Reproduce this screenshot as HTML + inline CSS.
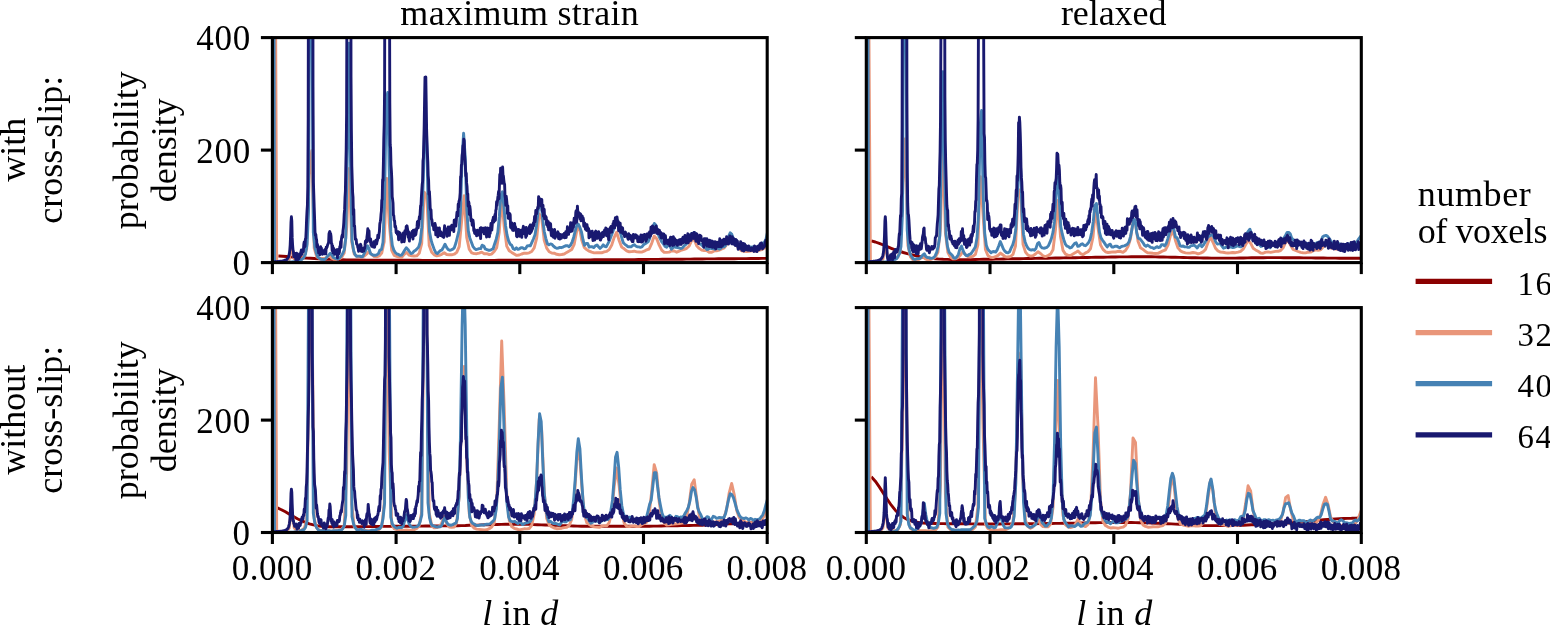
<!DOCTYPE html>
<html lang="en">
<head>
<meta charset="utf-8">
<title>Segment length probability density</title>
<style>
html,body{margin:0;padding:0;background:#fff;}
body{width:1550px;height:626px;overflow:hidden;}
svg{display:block;}
text{font-family:"Liberation Serif", serif;fill:#000;}
.c{fill:none;stroke-width:2.9;stroke-linejoin:round;stroke-linecap:butt;}
.s{fill:none;stroke:#000;stroke-width:3.1;stroke-linejoin:miter;stroke-linecap:square;}
.t{stroke:#000;stroke-width:3.1;stroke-linecap:butt;}
</style>
</head>
<body>
<svg width="1550" height="626" viewBox="0 0 1550 626">
<rect x="0" y="0" width="1550" height="626" fill="#fff"/>
<defs>
<clipPath id="cp00"><rect x="272.4" y="37.6" width="494.8" height="225"/></clipPath>
<clipPath id="cp01"><rect x="866.3" y="37.6" width="495" height="225"/></clipPath>
<clipPath id="cp10"><rect x="272.4" y="307.6" width="494.8" height="224.9"/></clipPath>
<clipPath id="cp11"><rect x="866.3" y="307.6" width="495" height="224.9"/></clipPath>
</defs>
<g clip-path="url(#cp00)">
<path class="c" stroke="#8b0000" d="M278.4 256L282.4 256.2L286.4 256.5L290.4 256.9L294.4 257.2L298.4 257.4L302.4 257.7L306.4 258L310.4 258.2L314.4 258.5L318.4 258.8L322.4 259L326.4 259.2L330.4 259.4L334.4 259.6L338.4 259.7L342.4 259.8L346.4 259.9L350.4 259.9L354.4 260L358.4 260L362.4 260L366.4 260.1L370.4 260.1L374.4 260.2L378.4 260.2L382.4 260.2L386.4 260.3L390.4 260.3L394.4 260.3L398.4 260.3L402.4 260.3L406.4 260.3L410.4 260.3L414.4 260.3L418.4 260.3L422.4 260.4L426.4 260.4L430.4 260.4L434.4 260.4L438.4 260.4L442.4 260.4L446.4 260.4L450.4 260.4L454.4 260.4L458.4 260.4L462.4 260.4L466.4 260.4L470.4 260.4L474.4 260.4L478.4 260.4L482.4 260.4L486.4 260.4L490.4 260.4L494.4 260.4L498.4 260.3L502.4 260.3L506.4 260.3L510.4 260.3L514.4 260.3L518.4 260.3L522.4 260.3L526.4 260.3L530.4 260.3L534.4 260.2L538.4 260.2L542.4 260.2L546.4 260.2L550.4 260.1L554.4 260.1L558.4 260.1L562.4 260.1L566.4 260L570.4 260L574.4 260L578.4 260L582.4 259.9L586.4 259.9L590.4 259.9L594.4 259.8L598.4 259.8L602.4 259.8L606.4 259.8L610.4 259.7L614.4 259.7L618.4 259.7L622.4 259.7L626.4 259.6L630.4 259.6L634.4 259.6L638.4 259.5L642.4 259.5L646.4 259.5L650.4 259.4L654.4 259.4L658.4 259.4L662.4 259.3L666.4 259.3L670.4 259.3L674.4 259.2L678.4 259.2L682.4 259.2L686.4 259.1L690.4 259.1L694.4 259L698.4 259L702.4 259L706.4 258.9L710.4 258.9L714.4 258.9L718.4 258.8L722.4 258.8L726.4 258.8L730.4 258.7L734.4 258.7L738.4 258.6L742.4 258.6L746.4 258.6L750.4 258.5L754.4 258.5L758.4 258.5L762.4 258.4L766.4 258.4L770.4 258.4"/>
<path class="c" stroke="#e9967a" d="M274.2 -299.9L276.7 262.6L279.2 262.1L281.7 262.1L284.2 262L286.7 261.6L289.2 259.7L291.7 246.1L294.2 258.9L296.7 260.7L299.2 260.2L301.7 259.3L304.2 256.3L306.7 248.7L309.2 174.9L311.7 150.8L314.2 248.2L316.7 256.8L319.2 258.2L321.7 258.5L324.2 258.7L326.7 257.6L329.2 255.5L331.7 258.2L334.2 259.4L336.7 259.2L339.2 258.7L341.7 257.2L344.2 252.9L346.7 227.6L349.2 168.5L351.7 241.9L354.2 254L356.7 256.1L359.2 257L361.7 257L364.2 256.1L366.7 253.9L369.2 251.4L371.7 254.6L374.2 256.5L376.7 256.9L379.2 256L381.7 253.1L384.2 241.8L386.7 178.4L389.2 222.8L391.7 250.3L394.2 255.4L396.7 256.3L399.2 257.1L401.7 257.4L404.2 254.4L406.7 252.4L409.2 255.2L411.7 255.9L414.2 256L416.7 255.9L419.2 253.3L421.7 243.7L424.2 192.2L426.7 195.7L429.2 245.6L431.7 252.3L434.2 254.8L436.7 255.8L439.2 255.3L441.7 254.3L444.2 252.7L446.7 254.5L449.2 254.8L451.7 254.8L454.2 254.2L456.7 252.4L459.2 246.6L461.7 220.7L464.2 195.8L466.7 237.4L469.2 249.2L471.7 252.9L474.2 253.6L476.7 253.7L479.2 253.1L481.7 252.1L484.2 253.7L486.7 253.7L489.2 254.5L491.7 254.1L494.2 251.5L496.7 247.6L499.2 232.5L501.7 198.2L504.2 226.5L506.7 246.1L509.2 250.7L511.7 252.4L514.2 253.9L516.7 255.4L519.2 255L521.7 254L524.2 253.2L526.7 253.3L529.2 252.8L531.7 251.5L534.2 247.9L536.7 238.1L539.2 214L541.7 218.4L544.2 240.4L546.7 248.1L549.2 251.8L551.7 253L554.2 253.2L556.7 254.3L559.2 254.7L561.7 254.5L564.2 254L566.7 252.4L569.2 251L571.7 249.5L574.2 244.3L576.7 231L579.2 226.3L581.7 240.1L584.2 247.4L586.7 249.6L589.2 251.2L591.7 252.2L594.2 252.9L596.7 252.8L599.2 252.8L601.7 252.8L604.2 251.9L606.7 251.4L609.2 249.6L611.7 245.1L614.2 237.4L616.7 232.2L619.2 240.8L621.7 247.1L624.2 248.8L626.7 250.8L629.2 251.8L631.7 251.6L634.2 251.2L636.7 251.9L639.2 252L641.7 252.1L644.2 251.2L646.7 249.8L649.2 249L651.7 243.3L654.2 236.1L656.7 238.7L659.2 245.2L661.7 250.1L664.2 252.4L666.7 252.4L669.2 252.1L671.7 250.8L674.2 251L676.7 252.2L679.2 251.1L681.7 250L684.2 249.4L686.7 248.3L689.2 246L691.7 240.3L694.2 239.5L696.7 245.7L699.2 248.4L701.7 250.1L704.2 250.6L706.7 250.5L709.2 252.3L711.7 252.3L714.2 250.9L716.7 250.8L719.2 250.2L721.7 248.9L724.2 247.8L726.7 244.6L729.2 239.1L731.7 236.4L734.2 240.9L736.7 245.6L739.2 248.9L741.7 250.8L744.2 251.2L746.7 251.6L749.2 251.4L751.7 250.9L754.2 250.8L756.7 251L759.2 250.4L761.7 249.7L764.2 248.3L766.7 245.9L769.2 243.2"/>
<path class="c" stroke="#4682b4" d="M273 -513.7L274.5 262.6L276.1 262.2L277.6 262.3L279.2 262.3L280.8 262.3L282.3 262.3L283.8 262.2L285.4 262.2L286.9 262.1L288.5 262L290 262L291.6 262L293.1 261.7L294.7 261.6L296.2 261.1L297.8 260.6L299.3 260.7L300.9 260.2L302.4 258.9L304 257.2L305.5 254.1L307.1 244.1L308.6 209.5L310.2 -187.2L311.8 -13.2L313.3 232.4L314.8 247.1L316.4 253.5L317.9 257.1L319.5 258.4L321 259.2L322.6 259.4L324.1 259.6L325.7 258.8L327.2 256.6L328.8 254.9L330.3 253.3L331.9 254.9L333.4 257.4L335 258.3L336.5 258.7L338.1 259L339.6 257.9L341.2 256L342.7 253.6L344.3 249.8L345.8 238L347.4 148.1L348.9 43.1L350.5 162.4L352 240.2L353.6 250.4L355.1 254.7L356.7 256.4L358.2 256.1L359.8 256.1L361.3 256.9L362.9 256.3L364.4 253.2L366 249.8L367.5 245.8L369.1 248.8L370.6 253.8L372.2 254.6L373.8 255.3L375.3 255.3L376.8 254.9L378.4 253.7L379.9 250.1L381.5 249.5L383 242.3L384.6 197.6L386.1 102.6L387.7 92.4L389.2 169.4L390.8 231.9L392.3 245.4L393.9 250.2L395.4 252.6L397 254L398.5 254.4L400.1 255.4L401.6 255.1L403.2 252.8L404.8 250.1L406.3 247.7L407.9 249.4L409.4 251.5L410.9 253.5L412.5 253.1L414 251.3L415.6 250.3L417.1 248.7L418.7 246.9L420.2 241.8L421.8 227.4L423.4 174.2L424.9 116.6L426.4 127.5L428 199.5L429.5 231.6L431.1 240.2L432.6 245.1L434.2 249.3L435.7 252.5L437.3 253.6L438.9 252L440.4 250.6L441.9 250L443.5 247.1L445 244.2L446.6 247.4L448.1 249.5L449.7 250.3L451.2 249.8L452.8 249.1L454.3 247.8L455.9 243L457.4 237L459 230.5L460.5 210.1L462.1 157.7L463.6 133.3L465.2 156.4L466.8 209.8L468.3 230.9L469.8 237.9L471.4 242.3L472.9 246.3L474.5 248.5L476 249.5L477.6 249.1L479.1 248.6L480.7 248.6L482.2 245.2L483.8 246L485.3 249L486.9 249.6L488.4 250.2L490 250.3L491.5 249.6L493.1 248.7L494.6 244L496.2 239.2L497.8 232.3L499.3 216.7L500.8 195.7L502.4 191.8L503.9 206.7L505.5 225.2L507 234.9L508.6 240.9L510.1 244.2L511.7 245.3L513.2 248.7L514.8 249.5L516.3 247.9L517.9 249.4L519.4 248.8L521 247.7L522.5 247.7L524.1 248.7L525.6 248.6L527.2 246L528.8 245.6L530.3 245.9L531.8 242.6L533.4 239L535 234.8L536.5 225.7L538 212.1L539.6 200.1L541.2 203.4L542.7 219.4L544.2 231.3L545.8 238.3L547.3 243.5L548.9 244.8L550.5 243.9L552 244.4L553.5 246.2L555.1 247.5L556.7 248.3L558.2 248.1L559.8 247.4L561.3 247.7L562.8 247.2L564.4 246.3L566 245.6L567.5 245.7L569 246.8L570.6 245L572.2 241.8L573.7 237.2L575.2 231.2L576.8 225.2L578.3 224.1L579.9 227.4L581.5 231.9L583 239.7L584.5 245.3L586.1 243.4L587.7 243.5L589.2 247.1L590.8 246.7L592.3 246.8L593.8 247.6L595.4 245.8L597 244.9L598.5 246.7L600 248.4L601.6 247L603.2 244.8L604.7 246.4L606.2 246.8L607.8 243.9L609.4 240.8L610.9 236.8L612.5 232.5L614 228.6L615.5 222.1L617.1 219.7L618.7 225L620.2 231.9L621.8 238L623.3 242.8L624.9 244.3L626.4 245.4L627.9 246.8L629.5 246.8L631 246.9L632.6 245.6L634.2 244.7L635.7 246L637.2 246.8L638.8 246.9L640.4 247.3L641.9 246.9L643.5 244.8L645 243.8L646.5 242.9L648.1 241.8L649.7 238.3L651.2 232.9L652.8 227.7L654.3 223.4L655.9 225.2L657.4 231.7L659 236.4L660.5 239.4L662 242.2L663.6 244.2L665.1 246.4L666.7 247.2L668.2 245L669.8 245.7L671.4 249.2L672.9 247.7L674.5 246.5L676 247.4L677.5 247.5L679.1 247.9L680.6 248.5L682.2 248.1L683.8 246.3L685.3 244.8L686.9 243.4L688.4 239.6L690 235.7L691.5 233.6L693 233L694.6 232.4L696.2 234.1L697.7 239.9L699.2 243.8L700.8 244.1L702.4 245.7L703.9 247L705.5 247.7L707 249.5L708.5 249L710.1 248.1L711.7 248.5L713.2 248.3L714.8 249.2L716.3 248.6L717.9 247.8L719.4 249L721 248.2L722.5 246.2L724 246.9L725.6 245.4L727.1 240.2L728.7 236.2L730.2 232.8L731.8 234.4L733.4 238.8L734.9 242.1L736.5 244.8L738 246.4L739.5 247.6L741.1 248.5L742.6 249.4L744.2 250.4L745.8 248.8L747.3 247.7L748.9 247.3L750.4 247L752 247.2L753.5 246.5L755 247.2L756.6 248.3L758.1 248.3L759.7 244.9L761.2 243.1L762.8 243.4L764.4 242.2L765.9 239.5L767.5 232.3"/>
<path class="c" stroke="#191970" d="M272.6 262L273 262.2L273.4 262.2L273.8 262L274.2 261.8L274.6 261.7L275 261.7L275.4 261.5L275.8 261.8L276.2 261.8L276.6 261.8L277 261.9L277.4 261.5L277.8 261.5L278.2 261.7L278.6 261.6L279 261.3L279.4 261.4L279.8 261.3L280.2 261.2L280.6 261.4L281 261.1L281.4 261.2L281.8 261.1L282.2 261.1L282.6 261L283 260.9L283.4 260.7L283.8 260.7L284.2 260.5L284.6 260.3L285 260.1L285.4 260.2L285.8 259.8L286.2 259.7L286.6 259.6L287 259.2L287.4 258.6L287.8 258.2L288.2 257.6L288.6 256.9L289 255.2L289.4 253.4L289.8 250.1L290.2 244.8L290.6 235.2L291 222.3L291.4 216.8L291.8 220.9L292.2 237.9L292.6 245.1L293 249.8L293.4 251.5L293.8 256.8L294.2 254.6L294.6 255.3L295 255.1L295.4 253.5L295.8 259.9L296.2 258.1L296.6 253.2L297 257.1L297.4 254.6L297.8 259.8L298.2 257.6L298.6 258.9L299 258.5L299.4 254L299.8 256.5L300.2 254.1L300.6 254L301 251.5L301.4 249.9L301.8 254.5L302.2 252.7L302.6 252L303 251.9L303.4 251.1L303.8 244.5L304.2 241.9L304.6 246.8L305 246.3L305.4 238.9L305.8 238.4L306.2 230L306.6 219.2L307 211.3L307.4 205.6L307.8 186.5L308.2 117.5L308.6 -131L309 -676.1L309.4 -1230.1L309.8 -1561L310.2 -1666.8L310.6 -1678L311 -1662.1L311.4 -1602.7L311.8 -1342.8L312.2 -824.9L312.6 -251.6L313 86.7L313.4 182.2L313.8 194.6L314.2 207.4L314.6 218.8L315 231.6L315.4 235.3L315.8 234.3L316.2 238.5L316.6 239.7L317 246.9L317.4 244.1L317.8 248.7L318.2 247.5L318.6 252.9L319 250.1L319.4 252.7L319.8 254.8L320.2 251.6L320.6 246.7L321 249.1L321.4 248.1L321.8 253.7L322.2 254.3L322.6 252L323 251.7L323.4 251.1L323.8 250.6L324.2 253.9L324.6 253.7L325 249.5L325.4 251.7L325.8 253.9L326.2 247.3L326.6 248L327 247.1L327.4 245.6L327.8 244.5L328.2 243.5L328.6 242.7L329 233.8L329.4 232.3L329.8 231.5L330.2 235.2L330.6 233.4L331 236.2L331.4 243.4L331.8 243.6L332.2 250.7L332.6 245.7L333 252.9L333.4 248L333.8 249.4L334.2 252.2L334.6 254.4L335 253.6L335.4 252.1L335.8 251.5L336.2 252.3L336.6 249.6L337 249.9L337.4 257.8L337.8 251.9L338.2 249.5L338.6 254L339 253.7L339.4 252.2L339.8 246.7L340.2 247.7L340.6 241.8L341 247.4L341.4 239.4L341.8 236.7L342.2 235.1L342.6 237.2L343 230.6L343.4 227.8L343.8 222.6L344.2 214.3L344.6 209.9L345 197.7L345.4 191.2L345.8 167.8L346.2 149.4L346.6 113.3L347 -24L347.4 -543L347.8 -1201.8L348.2 -1579.1L348.6 -1664L349 -1671.4L349.4 -1640.5L349.8 -1437.5L350.2 -885.5L350.6 -241.2L351 76.7L351.4 131.2L351.8 166.1L352.2 178.8L352.6 192.3L353 197.2L353.4 214.7L353.8 209.5L354.2 226.4L354.6 225.7L355 233.8L355.4 239.4L355.8 239.1L356.2 239.5L356.6 244.1L357 244.1L357.4 244.6L357.8 247.3L358.2 248.2L358.6 251.3L359 248.2L359.4 246.6L359.8 246.2L360.2 245.6L360.6 244.3L361 245.7L361.4 251.3L361.8 248.7L362.2 251.6L362.6 250.7L363 248.3L363.4 248.2L363.8 251.1L364.2 248.7L364.6 248.6L365 245.9L365.4 241.3L365.8 242.6L366.2 240.3L366.6 242.1L367 236.7L367.4 233.6L367.8 228.8L368.2 232.4L368.6 230.3L369 230.8L369.4 240.3L369.8 241.5L370.2 240.4L370.6 238.8L371 245.1L371.4 244.2L371.8 246.4L372.2 243.7L372.6 244.7L373 245L373.4 247L373.8 241.7L374.2 243.2L374.6 247.2L375 244.4L375.4 242.2L375.8 240.5L376.2 240L376.6 244L377 241.5L377.4 240.6L377.8 235.3L378.2 238.3L378.6 237.9L379 234.1L379.4 231.6L379.8 224.1L380.2 222.1L380.6 219.8L381 214.5L381.4 211.2L381.8 200L382.2 199.6L382.6 179.8L383 180.6L383.4 163.1L383.8 138.4L384.2 124L384.6 89.7L385 -119.2L385.4 -602.6L385.8 -1170.2L386.2 -1535.2L386.6 -1664.4L387 -1667.9L387.4 -1682.1L387.8 -1641.4L388.2 -1463.9L388.6 -1033.1L389 -463.3L389.4 -45.4L389.8 102.6L390.2 145L390.6 148.2L391 165L391.4 170.9L391.8 178.9L392.2 196.8L392.6 199.3L393 202.9L393.4 215.1L393.8 215.8L394.2 220.5L394.6 220.7L395 227L395.4 225.9L395.8 227.7L396.2 232.7L396.6 232.5L397 231.6L397.4 234.2L397.8 234.8L398.2 231.7L398.6 239.8L399 232.9L399.4 232.6L399.8 232.9L400.2 233.3L400.6 236.3L401 234.9L401.4 237.5L401.8 242.1L402.2 239.4L402.6 235.3L403 239.4L403.4 232.9L403.8 233.5L404.2 241.7L404.6 237.8L405 230.6L405.4 232.9L405.8 234.2L406.2 226.5L406.6 227.2L407 225.8L407.4 228.2L407.8 231L408.2 237.2L408.6 231.6L409 238.7L409.4 241.1L409.8 234.2L410.2 236L410.6 234L411 236.7L411.4 233.5L411.8 232.1L412.2 231.3L412.6 234.7L413 239L413.4 230.1L413.8 235.3L414.2 235.5L414.6 231.6L415 235.4L415.4 229.6L415.8 234.6L416.2 231.7L416.6 230L417 226.9L417.4 221.9L417.8 221.3L418.2 227.7L418.6 224.8L419 220.1L419.4 216.6L419.8 218.9L420.2 212.1L420.6 205.6L421 205.5L421.4 196.7L421.8 190.7L422.2 184.4L422.6 181.5L423 160.9L423.4 157.7L423.8 142.5L424.2 125.2L424.6 99.7L425 77.2L425.4 81.7L425.8 76.9L426.2 101.2L426.6 129.1L427 142.7L427.4 153.5L427.8 161.9L428.2 175.5L428.6 180.2L429 194.3L429.4 191.4L429.8 198.4L430.2 208.1L430.6 210L431 209.9L431.4 219.1L431.8 219.3L432.2 222.5L432.6 225.5L433 225.7L433.4 225.1L433.8 229.7L434.2 229.3L434.6 225.3L435 223.5L435.4 225L435.8 234.9L436.2 229.9L436.6 230.2L437 228.3L437.4 228.1L437.8 236.9L438.2 231.8L438.6 234.2L439 229.6L439.4 228L439.8 235.2L440.2 233.9L440.6 235.6L441 232L441.4 234.9L441.8 233L442.2 235L442.6 236.7L443 236.3L443.4 236.2L443.8 237.4L444.2 230.4L444.6 225.8L445 231L445.4 228.5L445.8 232L446.2 230.6L446.6 229.3L447 236.2L447.4 233.4L447.8 230.7L448.2 226.9L448.6 234L449 230.2L449.4 235.4L449.8 228.6L450.2 230L450.6 226.4L451 230.1L451.4 227.7L451.8 225.3L452.2 226.3L452.6 226.7L453 227.2L453.4 229.1L453.8 231.5L454.2 220.3L454.6 223.9L455 220.8L455.4 219.7L455.8 226L456.2 222L456.6 216.5L457 212.2L457.4 212.5L457.8 215.9L458.2 204.1L458.6 207.1L459 201.4L459.4 200.4L459.8 197.6L460.2 192.5L460.6 176.6L461 177L461.4 165L461.8 164.7L462.2 155.1L462.6 152.1L463 145.7L463.4 150.2L463.8 139.2L464.2 140.7L464.6 155.7L465 160.2L465.4 166.6L465.8 176L466.2 173.1L466.6 182.9L467 186.1L467.4 194.3L467.8 193.8L468.2 206.2L468.6 201.7L469 203.2L469.4 214.5L469.8 206.3L470.2 209.1L470.6 214.9L471 221L471.4 221L471.8 219.4L472.2 225.2L472.6 222.3L473 220.2L473.4 223.4L473.8 230.7L474.2 229L474.6 233.2L475 231.1L475.4 233.8L475.8 233.7L476.2 230.8L476.6 235.8L477 232.7L477.4 230.2L477.8 233.1L478.2 232.4L478.6 235.1L479 233.5L479.4 233.8L479.8 231.2L480.2 228.2L480.6 238.6L481 227.7L481.4 232.1L481.8 231.7L482.2 228.4L482.6 231.3L483 228.2L483.4 228.1L483.8 229L484.2 233.8L484.6 232.6L485 231.8L485.4 227.8L485.8 233.3L486.2 233.7L486.6 237L487 233.9L487.4 228L487.8 232.1L488.2 229.8L488.6 229.4L489 231.1L489.4 236.8L489.8 228.3L490.2 233.4L490.6 227.9L491 223.4L491.4 229.3L491.8 230L492.2 225.7L492.6 220.1L493 219.6L493.4 217.2L493.8 222.1L494.2 216.7L494.6 220.8L495 214.5L495.4 220.2L495.8 210.3L496.2 209.3L496.6 201.8L497 205.4L497.4 202L497.8 197.6L498.2 195.2L498.6 191.5L499 198.8L499.4 186.1L499.8 174.5L500.2 183.6L500.6 168.3L501 173.1L501.4 175.8L501.8 176.4L502.2 183.2L502.6 167L503 175.2L503.4 175.9L503.8 180.1L504.2 183.3L504.6 184.3L505 195.7L505.4 198.4L505.8 205.3L506.2 196.2L506.6 199.4L507 203.8L507.4 213.6L507.8 205.8L508.2 218.3L508.6 213.2L509 218.5L509.4 218.4L509.8 213.6L510.2 215L510.6 227.5L511 222.6L511.4 228.2L511.8 222.9L512.2 226.4L512.6 230.2L513 228.2L513.4 228.8L513.8 230.4L514.2 225.5L514.6 223.4L515 230.1L515.4 226.6L515.8 229.3L516.2 228.7L516.6 236.1L517 236.7L517.4 231.2L517.8 232L518.2 234.8L518.6 229.4L519 230L519.4 236.2L519.8 231.4L520.2 231L520.6 231.3L521 230.2L521.4 230.6L521.8 237.3L522.2 230.3L522.6 231.2L523 228.4L523.4 226.3L523.8 230.3L524.2 230.2L524.6 233.9L525 229.1L525.4 233.7L525.8 237.4L526.2 227.4L526.6 235.8L527 233.3L527.4 232.8L527.8 231.6L528.2 228.6L528.6 232.9L529 230.2L529.4 226.5L529.8 233.6L530.2 225L530.6 232.4L531 232.3L531.4 225.3L531.8 230.7L532.2 225.2L532.6 228.7L533 225.3L533.4 222.9L533.8 225.5L534.2 221.5L534.6 216.4L535 221.8L535.4 218.9L535.8 210.4L536.2 211.5L536.6 213.9L537 209.9L537.4 209.3L537.8 207.1L538.2 208.2L538.6 196.7L539 200L539.4 200.9L539.8 204.8L540.2 199L540.6 203.4L541 205.7L541.4 205.5L541.8 199.5L542.2 210.4L542.6 211.7L543 205.1L543.4 216.1L543.8 216.3L544.2 209.3L544.6 218.9L545 215.7L545.4 216L545.8 219.4L546.2 217.1L546.6 224.7L547 220.1L547.4 224.7L547.8 226.6L548.2 221.4L548.6 229.9L549 225.8L549.4 222.9L549.8 224.5L550.2 227.5L550.6 223.8L551 231.5L551.4 235.6L551.8 229.3L552.2 235.1L552.6 236.4L553 230.3L553.4 237.2L553.8 234.6L554.2 234.9L554.6 229.5L555 238.2L555.4 234.6L555.8 235.5L556.2 236.5L556.6 235.9L557 234.1L557.4 233.1L557.8 231.8L558.2 233.3L558.6 238.6L559 233.8L559.4 234.9L559.8 239.1L560.2 234.4L560.6 237L561 238L561.4 238.2L561.8 237.4L562.2 234.6L562.6 236.6L563 236L563.4 236.9L563.8 237.3L564.2 233.5L564.6 237.8L565 233.4L565.4 234.4L565.8 231.7L566.2 237.5L566.6 232L567 235L567.4 226.7L567.8 228.5L568.2 231.8L568.6 234.4L569 230.6L569.4 228.5L569.8 227.9L570.2 231.6L570.6 222.7L571 227.3L571.4 231.3L571.8 226.8L572.2 230.9L572.6 227.7L573 222.6L573.4 227.4L573.8 222.7L574.2 218.1L574.6 222.4L575 223.3L575.4 220.3L575.8 212.4L576.2 210.7L576.6 222.3L577 218.7L577.4 206.2L577.8 212.3L578.2 211.5L578.6 213.2L579 216.3L579.4 213.1L579.8 215.2L580.2 219L580.6 214L581 220.8L581.4 219.3L581.8 218.7L582.2 216L582.6 219.2L583 217.6L583.4 219.4L583.8 226.2L584.2 225.3L584.6 222.9L585 223.7L585.4 229.2L585.8 226.9L586.2 229.1L586.6 230.4L587 224.6L587.4 229.1L587.8 227.3L588.2 229.2L588.6 228.6L589 237.9L589.4 230.8L589.8 233L590.2 236.7L590.6 233.1L591 232.9L591.4 234.9L591.8 232.1L592.2 231.2L592.6 236.6L593 240.5L593.4 233.3L593.8 237.7L594.2 238.1L594.6 240.1L595 239.1L595.4 231.7L595.8 231.1L596.2 238.3L596.6 235.8L597 237.9L597.4 238.3L597.8 237.5L598.2 233.4L598.6 231.7L599 232.8L599.4 237.9L599.8 233.5L600.2 240L600.6 240L601 237.5L601.4 238.2L601.8 236.2L602.2 233.2L602.6 232.3L603 232.5L603.4 236.5L603.8 232.6L604.2 232.1L604.6 229.9L605 234.4L605.4 231.2L605.8 227.9L606.2 232.2L606.6 235.9L607 233.4L607.4 229.3L607.8 232.1L608.2 231.6L608.6 239.8L609 234L609.4 233.3L609.8 231.7L610.2 227.7L610.6 228.1L611 226.6L611.4 227.6L611.8 232.1L612.2 227.9L612.6 227.9L613 223.7L613.4 226.6L613.8 221.2L614.2 223.4L614.6 227.8L615 220.6L615.4 217.7L615.8 225.5L616.2 223.5L616.6 220.1L617 216.9L617.4 220.9L617.8 222.6L618.2 221.4L618.6 230.7L619 223.2L619.4 227.8L619.8 223.1L620.2 223.2L620.6 232.3L621 227.7L621.4 227L621.8 229.1L622.2 229.4L622.6 228L623 233.6L623.4 233L623.8 234.5L624.2 233.4L624.6 236.5L625 233L625.4 232L625.8 234.5L626.2 234.5L626.6 236.3L627 236L627.4 235L627.8 238.3L628.2 239.3L628.6 233.6L629 238L629.4 236.9L629.8 235.8L630.2 237.3L630.6 235.3L631 239.3L631.4 236.6L631.8 240.5L632.2 241.6L632.6 239.8L633 241.6L633.4 234.4L633.8 234.7L634.2 238.3L634.6 235.7L635 237.6L635.4 235.9L635.8 234.8L636.2 237.9L636.6 236.5L637 238.6L637.4 236L637.8 241.6L638.2 241.7L638.6 239.4L639 240.8L639.4 241.6L639.8 238.7L640.2 236.8L640.6 241.7L641 234.9L641.4 241.7L641.8 242L642.2 235.8L642.6 241.7L643 237.9L643.4 235L643.8 235.5L644.2 236.8L644.6 234.4L645 236.9L645.4 237.3L645.8 241.2L646.2 239.1L646.6 239.6L647 233.9L647.4 234.4L647.8 236.1L648.2 234.1L648.6 235.5L649 232.6L649.4 237.3L649.8 231.6L650.2 234.8L650.6 235.6L651 227.1L651.4 233.9L651.8 227.4L652.2 229.4L652.6 226L653 230.4L653.4 231.3L653.8 232.6L654.2 231.2L654.6 228.7L655 227.9L655.4 227.1L655.8 226.8L656.2 226L656.6 233.2L657 230.9L657.4 228.8L657.8 233.6L658.2 230.5L658.6 232L659 233.6L659.4 230.2L659.8 234.4L660.2 232L660.6 232.5L661 237.7L661.4 237.7L661.8 236L662.2 238L662.6 233.8L663 237.6L663.4 237.8L663.8 233.9L664.2 239.7L664.6 243.9L665 242.6L665.4 235.6L665.8 240.2L666.2 241L666.6 242.5L667 240.7L667.4 243.7L667.8 240.4L668.2 240.1L668.6 240.6L669 240.1L669.4 243L669.8 245.5L670.2 238.8L670.6 237.2L671 238.1L671.4 243.1L671.8 240.7L672.2 237.4L672.6 245.5L673 240.7L673.4 236.7L673.8 245.1L674.2 239.4L674.6 238.6L675 243L675.4 240.3L675.8 240L676.2 240.3L676.6 244.5L677 242.8L677.4 245.4L677.8 243.9L678.2 240.4L678.6 243.7L679 241L679.4 239.7L679.8 244.3L680.2 240.9L680.6 244.1L681 244.4L681.4 239.3L681.8 243.5L682.2 241L682.6 238.3L683 237.2L683.4 242.7L683.8 239.7L684.2 242L684.6 239.9L685 235.4L685.4 238.2L685.8 238.9L686.2 242.9L686.6 238.5L687 240.7L687.4 238.7L687.8 233.8L688.2 242.7L688.6 240.3L689 241.3L689.4 240.9L689.8 235L690.2 240.5L690.6 235.2L691 240.4L691.4 234.9L691.8 233.5L692.2 235.7L692.6 234.7L693 236.8L693.4 238.4L693.8 236.5L694.2 232.4L694.6 234.8L695 236.6L695.4 235.1L695.8 241L696.2 241.3L696.6 233.8L697 234.4L697.4 240.5L697.8 236.4L698.2 238.2L698.6 243.6L699 237.9L699.4 238.7L699.8 235.3L700.2 239.6L700.6 236.3L701 236.1L701.4 240.5L701.8 239.6L702.2 240.3L702.6 240.7L703 243.1L703.4 242.7L703.8 247.2L704.2 238.8L704.6 245.3L705 244.6L705.4 238.7L705.8 242.3L706.2 244.9L706.6 245.1L707 238.8L707.4 246.4L707.8 243.1L708.2 245.6L708.6 240.9L709 245.6L709.4 246.6L709.8 240.3L710.2 246.5L710.6 242.3L711 242.5L711.4 242.8L711.8 241L712.2 247.2L712.6 244.4L713 244.5L713.4 241.8L713.8 241.9L714.2 246.2L714.6 247.6L715 241.7L715.4 245.2L715.8 248.9L716.2 245.7L716.6 247L717 242.3L717.4 245.7L717.8 245.7L718.2 246.4L718.6 243.7L719 246.5L719.4 242.5L719.8 238.7L720.2 246.5L720.6 245.8L721 241.3L721.4 246.8L721.8 244.3L722.2 240.4L722.6 244.8L723 245.2L723.4 240.6L723.8 239.2L724.2 241.3L724.6 241.7L725 243.1L725.4 243.9L725.8 239L726.2 243.4L726.6 236.6L727 243.6L727.4 241L727.8 241.5L728.2 242.8L728.6 244L729 237.9L729.4 242.3L729.8 236L730.2 239.6L730.6 240.2L731 239.6L731.4 237.1L731.8 243.9L732.2 236.7L732.6 237.7L733 238.7L733.4 244.1L733.8 238.6L734.2 242.2L734.6 244.5L735 241.1L735.4 245.5L735.8 239.4L736.2 240.4L736.6 240.2L737 241.6L737.4 241.1L737.8 246.2L738.2 249.2L738.6 245.6L739 248.1L739.4 245.4L739.8 247.5L740.2 248.3L740.6 241.6L741 247.5L741.4 242.6L741.8 250.2L742.2 247.7L742.6 244.5L743 250.6L743.4 243.5L743.8 251L744.2 244.6L744.6 244L745 248.6L745.4 244.9L745.8 248.4L746.2 249.8L746.6 249.7L747 249.7L747.4 246.4L747.8 247.1L748.2 250.2L748.6 245.9L749 248.6L749.4 248.4L749.8 248.8L750.2 250.5L750.6 248.2L751 250.6L751.4 247.9L751.8 249.8L752.2 249.7L752.6 248.1L753 248.1L753.4 250.7L753.8 251.4L754.2 249.5L754.6 245.9L755 250.3L755.4 249.6L755.8 251.1L756.2 246.9L756.6 246.8L757 251.6L757.4 248.9L757.8 246.1L758.2 249.3L758.6 246.9L759 245.8L759.4 249.5L759.8 247.5L760.2 243.6L760.6 247.9L761 247.6L761.4 243L761.8 244.2L762.2 246.7L762.6 248.9L763 246.1L763.4 247.6L763.8 247.2L764.2 247L764.6 246.1L765 243.1L765.4 242.1L765.8 240.3L766.2 242.2L766.6 241.8L767 244.4L767.4 237.6"/>
</g>
<line class="t" x1="272.4" y1="262.6" x2="272.4" y2="274.1"/>
<line class="t" x1="396.1" y1="262.6" x2="396.1" y2="274.1"/>
<line class="t" x1="519.8" y1="262.6" x2="519.8" y2="274.1"/>
<line class="t" x1="643.5" y1="262.6" x2="643.5" y2="274.1"/>
<line class="t" x1="767.2" y1="262.6" x2="767.2" y2="274.1"/>
<line class="t" x1="260.9" y1="262.6" x2="272.4" y2="262.6"/>
<line class="t" x1="260.9" y1="150.1" x2="272.4" y2="150.1"/>
<line class="t" x1="260.9" y1="37.6" x2="272.4" y2="37.6"/>
<rect class="s" x="272.4" y="37.6" width="494.8" height="225"/>
<g clip-path="url(#cp01)">
<path class="c" stroke="#8b0000" d="M871.3 240.9L875.3 242L879.3 243.4L883.3 245L887.3 246.7L891.3 248.3L895.3 249.8L899.3 251.2L903.3 252.5L907.3 253.7L911.3 254.7L915.3 255.7L919.3 256.5L923.3 257.2L927.3 257.9L931.3 258.4L935.3 258.8L939.3 259.1L943.3 259.3L947.3 259.4L951.3 259.6L955.3 259.6L959.3 259.7L963.3 259.6L967.3 259.6L971.3 259.6L975.3 259.5L979.3 259.4L983.3 259.3L987.3 259.3L991.4 259.2L995.4 259.1L999.4 259.1L1003.4 259L1007.4 258.9L1011.4 258.8L1015.4 258.8L1019.4 258.7L1023.4 258.6L1027.4 258.5L1031.4 258.5L1035.4 258.4L1039.4 258.3L1043.4 258.3L1047.4 258.2L1051.4 258.1L1055.4 258L1059.4 258L1063.4 257.9L1067.4 257.8L1071.4 257.7L1075.4 257.7L1079.4 257.6L1083.4 257.5L1087.4 257.5L1091.4 257.4L1095.4 257.3L1099.4 257.2L1103.4 257.2L1107.4 257.1L1111.4 257L1115.4 257L1119.4 256.9L1123.4 256.9L1127.4 256.9L1131.4 256.8L1135.4 256.8L1139.4 256.8L1143.4 256.8L1147.4 256.8L1151.4 256.8L1155.4 256.9L1159.4 257L1163.4 257L1167.4 257.1L1171.4 257.2L1175.4 257.3L1179.4 257.4L1183.4 257.5L1187.4 257.6L1191.4 257.7L1195.4 257.8L1199.4 257.9L1203.4 258L1207.4 258L1211.4 258.1L1215.4 258.1L1219.4 258.1L1223.4 258.1L1227.4 258.1L1231.4 258.1L1235.4 258.1L1239.5 258L1243.5 258L1247.5 257.9L1251.5 257.8L1255.5 257.8L1259.5 257.7L1263.5 257.7L1267.5 257.6L1271.5 257.6L1275.5 257.6L1279.5 257.6L1283.5 257.7L1287.5 257.7L1291.5 257.7L1295.5 257.8L1299.5 257.8L1303.5 257.9L1307.5 257.9L1311.5 257.9L1315.5 258L1319.5 258L1323.5 258L1327.5 258.1L1331.5 258.1L1335.5 258.1L1339.5 258.2L1343.5 258.2L1347.5 258.3L1351.5 258.3L1355.5 258.3L1359.5 258.3L1363.5 258.4"/>
<path class="c" stroke="#e9967a" d="M867.9 -131.2L870.4 262.6L872.9 262.3L875.4 262L877.9 262L880.4 261.7L882.9 259.2L885.4 244.9L887.9 258.2L890.4 260.1L892.9 259.8L895.4 258.8L897.9 257.3L900.4 250.2L902.9 186.5L905.4 138.7L907.9 245.4L910.4 256.7L912.9 259.7L915.4 260.4L917.9 259.9L920.4 258.4L922.9 256.5L925.4 258.9L927.9 260L930.4 259.5L932.9 258.7L935.4 257L937.9 252.4L940.4 228.6L942.9 147.8L945.4 232.7L947.9 252.6L950.4 257L952.9 258.8L955.4 258.8L957.9 257.6L960.4 255.2L962.9 251.5L965.4 254.6L967.9 256.6L970.4 256.7L972.9 256.4L975.4 254.4L977.9 244.8L980.4 176.7L982.9 212.5L985.4 249.5L987.9 255.5L990.5 257.3L993 257.6L995.5 256.7L998 255.4L1000.5 253.1L1003 255L1005.5 256.9L1008 257L1010.5 256.5L1013 254.4L1015.5 246L1018 196.1L1020.5 189.4L1023 244.2L1025.5 252.1L1028 255.2L1030.5 256.1L1033 255.7L1035.5 254L1038 251.7L1040.5 253.5L1043 255.8L1045.5 256.6L1048 255.6L1050.5 254.1L1053 249.7L1055.5 229.4L1058 200.4L1060.5 236.6L1063 250.4L1065.5 254.1L1068 255.1L1070.5 255.4L1073 254L1075.5 252.6L1078 250.9L1080.5 253.6L1083 254.7L1085.5 252.9L1088 251.7L1090.5 248.7L1093 237.2L1095.5 209.3L1098 227.8L1100.5 244.9L1103 249.4L1105.5 251.8L1108 252.5L1110.5 252.2L1113 251.9L1115.5 252L1118 251.3L1120.5 251.5L1123 252.3L1125.5 250.5L1128 246.5L1130.5 238.8L1133 221.4L1135.5 223.1L1138 241.2L1140.5 247.7L1143 249.4L1145.5 251.5L1148 252.9L1150.5 253L1153 253.3L1155.5 253.5L1158 253.4L1160.5 252.1L1163 250.8L1165.5 249.8L1168 245.1L1170.5 235.5L1173 231.2L1175.5 240.7L1178 247.9L1180.5 250.9L1183 252.2L1185.5 252.9L1188 253.1L1190.5 253L1193 252.5L1195.5 252.9L1198 253.8L1200.5 253.1L1203 251.9L1205.5 249.5L1208 242.6L1210.5 236.8L1213 242.3L1215.5 248.3L1218 251L1220.5 252.1L1223 252.3L1225.5 252.7L1228 253L1230.5 252.8L1233 252.5L1235.5 252.7L1238.1 252.2L1240.6 251.3L1243.1 249.2L1245.6 244.7L1248.1 240.4L1250.6 243.2L1253.1 248.2L1255.6 249.9L1258.1 251.3L1260.6 253L1263.1 253.3L1265.6 252.1L1268.1 251.9L1270.6 252.4L1273.1 251.9L1275.6 251.4L1278.1 251.3L1280.6 250.5L1283.1 247.8L1285.6 242.5L1288.1 240.6L1290.6 245.3L1293.1 249.4L1295.6 250.5L1298.1 251.5L1300.6 252.4L1303.1 252.7L1305.6 252.9L1308.1 252.2L1310.6 252.1L1313.1 250.8L1315.6 249.9L1318.1 250.3L1320.6 249.8L1323.1 247L1325.6 243.8L1328.1 245.9L1330.6 248L1333.1 248.2L1335.6 249.1L1338.1 249.2L1340.6 248.8L1343.1 248.1L1345.6 247.6L1348.1 248L1350.6 248.9L1353.1 248.4L1355.6 247.3L1358.1 246.6L1360.6 245.9L1363.1 244.4"/>
<path class="c" stroke="#4682b4" d="M866.9 -513.7L868.5 262.6L870 262.2L871.6 262.1L873.1 262.2L874.7 262.4L876.2 262.5L877.8 262.5L879.3 262.2L880.9 261.9L882.4 261.9L884 261.9L885.5 262L887.1 261.6L888.6 261.5L890.2 261.8L891.7 261.4L893.3 260.5L894.8 259.5L896.4 258.9L897.9 256.6L899.5 253.6L901 246.4L902.6 210.2L904.1 -187.4L905.7 -15.7L907.2 230L908.8 248.4L910.3 254.2L911.9 257.1L913.4 259L915 259.3L916.5 258.8L918.1 258.6L919.6 258.6L921.2 257.2L922.7 255.2L924.3 253.8L925.8 256.5L927.4 257.6L928.9 257.6L930.5 258.4L932 258.2L933.6 257.6L935.1 255.9L936.7 252.3L938.2 246L939.8 236L941.3 153.2L942.9 71.8L944.4 159.9L946 234L947.5 246.7L949.1 252.2L950.6 253.7L952.2 255.3L953.7 257.8L955.3 258.3L956.8 257L958.4 254.4L959.9 248.9L961.5 246.1L963 250.5L964.6 253.8L966.1 255.5L967.7 255.5L969.2 254.3L970.8 253.9L972.3 251.8L973.9 249.4L975.4 246.8L977 237.8L978.5 215.5L980.1 126.5L981.6 110.4L983.2 194.4L984.7 233.1L986.3 245.3L987.8 249.2L989.4 251.1L991 252.8L992.5 251.7L994.1 251.5L995.6 252.1L997.2 249.8L998.7 246L1000.3 241.5L1001.8 245.1L1003.4 249L1004.9 251.2L1006.5 252.6L1008 252.7L1009.6 251.7L1011.1 248.1L1012.7 244.8L1014.2 239.7L1015.8 229.2L1017.3 198.8L1018.9 151.5L1020.4 161.2L1022 214.5L1023.5 234.2L1025.1 241.9L1026.6 245.8L1028.2 248.4L1029.7 249.6L1031.3 250.1L1032.8 249.6L1034.4 250.2L1035.9 248.6L1037.5 243.6L1039 242.5L1040.6 246.5L1042.1 247.8L1043.7 248.2L1045.2 248L1046.8 247.3L1048.3 246L1049.9 242.4L1051.4 238.5L1053 232.2L1054.5 221.4L1056.1 192.4L1057.6 176.1L1059.2 196.8L1060.7 226.2L1062.3 234.2L1063.8 239.7L1065.4 244.2L1066.9 246.2L1068.5 246.6L1070 248L1071.6 247.3L1073.1 245.4L1074.7 243.4L1076.2 242.8L1077.8 246.3L1079.3 246.1L1080.9 244.4L1082.4 243.7L1084 245.3L1085.5 245.7L1087.1 244.2L1088.6 242.5L1090.2 239L1091.7 232.2L1093.3 221.4L1094.8 205.6L1096.4 203.5L1097.9 218.2L1099.5 232.4L1101 237.9L1102.6 240.3L1104.1 242.4L1105.7 244.9L1107.2 247L1108.8 244.8L1110.3 244.2L1111.9 247.1L1113.4 247.1L1115 246.2L1116.6 246.1L1118.1 246.9L1119.7 247.8L1121.2 246.7L1122.8 246.1L1124.3 245.8L1125.9 245.1L1127.4 244.2L1129 241.8L1130.5 236.6L1132.1 228.4L1133.6 219.3L1135.2 219.8L1136.7 232.7L1138.3 238.4L1139.8 238.7L1141.4 240.7L1142.9 242.6L1144.5 245.3L1146 246.3L1147.6 245.1L1149.1 246.1L1150.7 247.3L1152.2 247.6L1153.8 248.5L1155.3 247.7L1156.9 246.6L1158.4 247.5L1160 247.1L1161.5 244.8L1163.1 244.6L1164.6 245.9L1166.2 243.6L1167.7 239.1L1169.3 233.3L1170.8 229L1172.4 225.8L1173.9 229.4L1175.5 237.2L1177 237.6L1178.6 241.5L1180.1 245.9L1181.7 246.4L1183.2 245.9L1184.8 246.9L1186.3 246.9L1187.9 247.2L1189.4 247.4L1191 245.6L1192.5 245.6L1194.1 245.2L1195.6 246.3L1197.2 248L1198.7 245.7L1200.3 244.5L1201.8 246.8L1203.4 245.1L1204.9 242.6L1206.5 240L1208 236.5L1209.6 236L1211.1 235.1L1212.7 234.9L1214.2 238.2L1215.8 242L1217.3 244L1218.9 243.9L1220.4 243.9L1222 246.2L1223.5 248.2L1225.1 247.7L1226.6 246.8L1228.2 247L1229.7 247L1231.3 247.1L1232.8 247.5L1234.4 247.3L1235.9 246.6L1237.5 245.6L1239.1 246.3L1240.6 246.9L1242.2 246L1243.7 243.3L1245.3 237.7L1246.8 233.6L1248.4 231.1L1249.9 229.2L1251.5 233.2L1253 238.4L1254.6 240.6L1256.1 243.2L1257.7 243.8L1259.2 244.6L1260.8 246.4L1262.3 245.6L1263.9 245L1265.4 244.3L1267 243.4L1268.5 246L1270.1 247.6L1271.6 245.4L1273.2 244.1L1274.7 244.3L1276.3 245.1L1277.8 245.3L1279.4 244L1280.9 242.9L1282.5 239.6L1284 238L1285.6 235.2L1287.1 232.4L1288.7 232.4L1290.2 233.8L1291.8 238.4L1293.3 239.7L1294.9 240.5L1296.4 243.4L1298 243.5L1299.5 243.9L1301.1 244.8L1302.6 245.2L1304.2 244.8L1305.7 243.5L1307.3 243.4L1308.8 244.2L1310.4 246.3L1311.9 246.3L1313.5 245L1315 245.4L1316.6 242.8L1318.1 242.3L1319.7 244.2L1321.2 240.3L1322.8 236.7L1324.3 235.8L1325.9 235.4L1327.4 236.1L1329 238.1L1330.5 240.3L1332.1 242.5L1333.6 244.3L1335.2 244.4L1336.7 244.1L1338.3 243.8L1339.8 243.6L1341.4 245.5L1342.9 246L1344.5 244.6L1346 244.7L1347.6 243.8L1349.1 243.9L1350.7 244.4L1352.2 243.2L1353.8 244L1355.3 244.1L1356.9 242L1358.4 239.3L1360 237.2L1361.6 235"/>
<path class="c" stroke="#191970" d="M866.5 262L866.9 262.2L867.3 261.7L867.7 261.9L868.1 261.9L868.5 261.9L868.9 261.9L869.3 262L869.7 261.9L870.1 261.5L870.5 261.9L870.9 261.6L871.3 261.8L871.7 261.6L872.1 261.4L872.5 261.4L872.9 261.7L873.3 261.3L873.7 261.3L874.1 261.1L874.5 261.2L874.9 261.2L875.3 261.3L875.7 261L876.1 260.9L876.5 261.1L876.9 260.7L877.3 260.8L877.7 260.6L878.1 260.3L878.5 260.7L878.9 260.4L879.3 260L879.7 259.8L880.1 259.6L880.5 259.6L880.9 259L881.3 258.7L881.7 258L882.1 257.5L882.5 256.7L882.9 255.4L883.3 253.4L883.7 249.8L884.1 244.2L884.5 235.2L884.9 221.2L885.3 216.7L885.7 222.7L886.1 236.1L886.5 246.8L886.9 248.3L887.3 256.3L887.7 258.6L888.1 260L888.5 259.3L888.9 257.3L889.3 256.7L889.7 258.1L890.1 259.7L890.5 255L890.9 257.5L891.3 257.6L891.7 254.1L892.1 255L892.5 260L892.9 253.5L893.3 254.9L893.7 252L894.1 254.3L894.5 257.8L894.9 250.3L895.3 251.1L895.7 249.4L896.1 249.8L896.5 252.4L896.9 251.9L897.3 249.8L897.7 249.4L898.1 247.3L898.5 246L898.9 238.8L899.3 233.8L899.7 234.8L900.1 224.4L900.5 215.4L900.9 216.5L901.3 198.9L901.7 193.3L902.1 125.6L902.5 -122.8L902.9 -672.2L903.3 -1242L903.7 -1567.7L904.1 -1666.4L904.5 -1664.9L904.9 -1664.4L905.3 -1599.4L905.7 -1344.8L906.1 -829.7L906.5 -247.1L906.9 93L907.3 173.1L907.7 203.4L908.1 213.7L908.5 214.9L908.9 219.9L909.3 227L909.7 234.3L910.1 239.4L910.5 242.7L910.9 243.9L911.3 241.8L911.7 248.2L912.1 242.5L912.5 250.8L912.9 250.9L913.3 251.8L913.7 244.8L914.1 245.4L914.5 246.7L914.9 247.1L915.3 246L915.7 247.6L916.1 253.7L916.5 245.6L916.9 247.9L917.3 246.5L917.7 249.6L918.1 253.9L918.5 250L918.9 247.3L919.3 245.8L919.7 248.4L920.1 249.3L920.5 243.8L920.9 248L921.3 248.7L921.7 245L922.1 242L922.5 237.1L922.9 235.4L923.3 233.9L923.7 228.8L924.1 228.1L924.5 239.5L924.9 237L925.3 238.2L925.7 243.2L926.1 244.1L926.5 249.3L926.9 250.3L927.3 247.3L927.7 247L928.1 248.6L928.5 246.1L928.9 249.4L929.3 252.7L929.7 251.4L930.1 248.1L930.5 249.6L930.9 249.3L931.3 247.9L931.7 246.6L932.1 248.7L932.5 248.1L932.9 249.1L933.3 247.8L933.7 246.1L934.1 247.9L934.5 246.7L934.9 244.8L935.3 237.6L935.7 237.5L936.1 236L936.5 236.1L936.9 229.5L937.3 223.6L937.7 219.6L938.1 214.8L938.5 201.2L938.9 188.9L939.3 185.3L939.7 166.2L940.1 151.2L940.5 121.5L940.9 37L941.3 -386.7L941.7 -1115L942.1 -1554.7L942.5 -1662.3L942.9 -1675.4L943.3 -1648.6L943.7 -1390L944.1 -753.8L944.5 -105L944.9 97.4L945.3 141.4L945.7 162.8L946.1 177.6L946.5 193.3L946.9 206L947.3 209.5L947.7 210.2L948.1 226.2L948.5 224.5L948.9 230.7L949.3 230.9L949.7 237.6L950.1 239.1L950.5 236.2L950.9 236L951.3 238.4L951.7 240.1L952.1 241.9L952.5 242.2L952.9 244L953.3 241.5L953.7 243.3L954.1 244.5L954.5 246L954.9 241.3L955.3 243.3L955.7 247.5L956.1 247.1L956.5 246.8L956.9 247.7L957.3 241.9L957.7 241.2L958.1 240.1L958.5 244.2L958.9 242.4L959.3 238.6L959.7 242.3L960.1 240.6L960.5 239.8L960.9 240.6L961.3 231.5L961.7 231.7L962.1 237.4L962.5 228.8L962.9 237.1L963.3 240.6L963.7 235.4L964.1 241.3L964.5 244.2L964.9 242.1L965.3 239.5L965.7 240.2L966.1 242.1L966.5 247.5L966.9 243.6L967.3 246.5L967.7 242.8L968.1 244.2L968.5 239.1L968.9 244.7L969.3 244.8L969.7 245L970.1 237.9L970.5 242.2L970.9 235.5L971.3 242.1L971.7 234.1L972.1 236.5L972.5 234.4L972.9 231.3L973.3 226L973.7 232L974.1 226.3L974.5 222.7L974.9 211.5L975.3 211.7L975.7 201.4L976.1 199.8L976.5 178.3L976.9 164.5L977.3 163.4L977.7 150L978.1 118.6L978.5 12.2L978.9 -287.4L979.3 -816.5L979.7 -1300.5L980.1 -1568.7L980.5 -1655L980.9 -1674.1L981.3 -1671.9L981.7 -1651.8L982.1 -1527.5L982.5 -1193L982.9 -671.6L983.3 -188L983.7 48.2L984.1 133.6L984.5 137.3L984.9 163.2L985.3 176.5L985.7 177.9L986.1 189L986.5 201L986.9 200.4L987.3 204.2L987.7 219.6L988.1 212.7L988.5 215.1L988.9 216.6L989.3 221.3L989.7 229.3L990.2 228.8L990.6 231.4L991 230.2L991.4 229.9L991.8 235.3L992.2 229.5L992.6 230.6L993 232.7L993.4 232.9L993.8 228L994.2 237.1L994.6 234.1L995 235.9L995.4 236.6L995.8 236.6L996.2 228.8L996.6 233.2L997 235.8L997.4 232.5L997.8 233.8L998.2 232.4L998.6 227.6L999 231L999.4 227.1L999.8 227.3L1000.2 224.9L1000.6 232L1001 224.9L1001.4 235.3L1001.8 234.8L1002.2 236L1002.6 233.7L1003 238.5L1003.4 232.1L1003.8 232L1004.2 236.4L1004.6 228.8L1005 233.8L1005.4 238.4L1005.8 236.1L1006.2 234.5L1006.6 230.7L1007 229.3L1007.4 235.5L1007.8 231.4L1008.2 234.2L1008.6 235.8L1009 236.8L1009.4 229.4L1009.8 231.1L1010.2 232.3L1010.6 232.9L1011 224.6L1011.4 227.7L1011.8 223.1L1012.2 226.8L1012.6 219.3L1013 222.7L1013.4 225.3L1013.8 223.8L1014.2 217.6L1014.6 213.6L1015 204.3L1015.4 208.9L1015.8 201.3L1016.2 190L1016.6 196.3L1017 176L1017.4 180.7L1017.8 169.9L1018.2 153.5L1018.6 122.6L1019 129.9L1019.4 117.1L1019.8 122L1020.2 132.4L1020.6 146.3L1021 167.8L1021.4 177.9L1021.8 182.2L1022.2 192.5L1022.6 191.9L1023 207.1L1023.4 212.2L1023.8 208.7L1024.2 216.9L1024.6 221.6L1025 217.8L1025.4 222.2L1025.8 220.2L1026.2 228.9L1026.6 219L1027 223.6L1027.4 230.5L1027.8 226.2L1028.2 230.8L1028.6 229.9L1029 229.2L1029.4 232.3L1029.8 229.3L1030.2 231.2L1030.6 235.8L1031 228.5L1031.4 229.8L1031.8 234.2L1032.2 233.9L1032.6 235.2L1033 230.7L1033.4 232L1033.8 233.4L1034.2 228.3L1034.6 229.8L1035 231.5L1035.4 237.3L1035.8 228.8L1036.2 235.5L1036.6 227.5L1037 231.1L1037.4 230.2L1037.8 230.8L1038.2 231.1L1038.6 231.8L1039 231.1L1039.4 229.1L1039.8 228.9L1040.2 233.1L1040.6 227.9L1041 227.7L1041.4 230.2L1041.8 229.8L1042.2 236.1L1042.6 229.2L1043 231.5L1043.4 231.5L1043.8 228.7L1044.2 235.1L1044.6 228.6L1045 225.4L1045.4 225.5L1045.8 227.8L1046.2 224.6L1046.6 226.7L1047 233.2L1047.4 227L1047.8 221.8L1048.2 225.7L1048.6 223.5L1049 224.9L1049.4 223.3L1049.8 219.8L1050.2 227.2L1050.6 214.1L1051 222.3L1051.4 212.2L1051.8 217.6L1052.2 218.2L1052.6 210.1L1053 204.2L1053.4 211.2L1053.8 205.5L1054.2 191.6L1054.6 189.7L1055 182.7L1055.4 184.5L1055.8 181.1L1056.2 178.2L1056.6 167.8L1057 153.2L1057.4 171.7L1057.8 154.3L1058.2 162.6L1058.6 173.7L1059 165.3L1059.4 170.3L1059.8 182.2L1060.2 188.5L1060.6 185.2L1061 188.4L1061.4 203L1061.8 204.8L1062.2 202.2L1062.6 216.1L1063 213.8L1063.4 218.7L1063.8 213.1L1064.2 219.8L1064.6 225L1065 222.9L1065.4 228.3L1065.8 219.3L1066.2 226.9L1066.6 221.5L1067 227.4L1067.4 229.3L1067.8 232.7L1068.2 222.6L1068.6 230.9L1069 225.5L1069.4 228.9L1069.8 231.9L1070.2 228.9L1070.6 229.9L1071 235.1L1071.4 229.2L1071.8 232.5L1072.2 234.2L1072.6 228.1L1073 228.4L1073.4 233.9L1073.8 230.1L1074.2 235.8L1074.6 228.6L1075 231.5L1075.4 233.1L1075.8 229.7L1076.2 231.9L1076.6 234.8L1077 233.5L1077.4 230.7L1077.8 227.4L1078.2 230L1078.6 234.9L1079 232.2L1079.4 231L1079.8 232.4L1080.2 230.6L1080.6 229.7L1081 234.9L1081.4 232L1081.8 231.1L1082.2 234.1L1082.6 236.8L1083 228.9L1083.4 235.7L1083.8 225.4L1084.2 230L1084.6 230.4L1085 226.6L1085.4 225L1085.8 229.7L1086.2 225.2L1086.6 227.2L1087 224.5L1087.4 222.8L1087.8 220.8L1088.2 219.4L1088.6 224.1L1089 215.6L1089.4 222.3L1089.8 210.9L1090.2 212L1090.6 208.5L1091 209.6L1091.4 202.4L1091.8 199L1092.2 206.2L1092.6 195L1093 202L1093.4 197.3L1093.8 188L1094.2 182.7L1094.6 179.6L1095 187.6L1095.4 185.1L1095.8 182.6L1096.2 174.5L1096.6 187.1L1097 187.6L1097.4 189.5L1097.8 197.7L1098.2 189.8L1098.6 189.9L1099 199.8L1099.4 196L1099.8 204.6L1100.2 204.4L1100.6 212.9L1101 206.4L1101.4 217.4L1101.8 217.7L1102.2 216.1L1102.6 216.7L1103 217.6L1103.4 224.2L1103.8 223.8L1104.2 228.4L1104.6 223.6L1105 221.5L1105.4 233.4L1105.8 225.2L1106.2 228.6L1106.6 234.6L1107 224.1L1107.4 232L1107.8 231.8L1108.2 233.5L1108.6 226.5L1109 234.4L1109.4 228.7L1109.8 233L1110.2 231.4L1110.6 233.5L1111 234.8L1111.4 234.3L1111.8 230.6L1112.2 230.4L1112.6 234.1L1113 235.5L1113.4 237.2L1113.8 238.2L1114.2 232.8L1114.6 232.8L1115 233.8L1115.4 231.8L1115.8 234.7L1116.2 230.7L1116.6 236.2L1117 232.5L1117.4 236L1117.8 235.3L1118.2 231.2L1118.6 236L1119 237.5L1119.4 231.2L1119.8 232.3L1120.2 236.5L1120.6 238.1L1121 231.1L1121.4 234.6L1121.8 233L1122.2 228.3L1122.6 230.7L1123 233.6L1123.4 236.1L1123.8 229.7L1124.2 229.9L1124.6 234L1125 227.3L1125.4 227.1L1125.8 233.3L1126.2 227.4L1126.6 227.1L1127 230.1L1127.4 218.8L1127.8 220.8L1128.2 223.8L1128.6 224.2L1129 219.4L1129.4 224.2L1129.8 219.5L1130.2 222L1130.6 218.2L1131 220.5L1131.4 218.1L1131.8 212.2L1132.2 211.1L1132.6 217.6L1133 216.5L1133.4 214.3L1133.8 215.6L1134.2 209.6L1134.6 209.5L1135 206.6L1135.4 213.3L1135.8 206.1L1136.2 217.2L1136.6 211.9L1137 209.7L1137.4 217.4L1137.8 220.2L1138.2 220.5L1138.6 225.8L1139 226.4L1139.4 219.6L1139.8 228.9L1140.2 221.7L1140.6 225.6L1141 227.7L1141.4 225.8L1141.8 226.5L1142.2 229.4L1142.6 235.2L1143 228.8L1143.4 227.7L1143.8 229.2L1144.2 232.2L1144.6 233.9L1145 236.6L1145.4 237.4L1145.8 235.7L1146.2 236.6L1146.6 232.2L1147 239.1L1147.4 231.4L1147.8 231.5L1148.2 234.4L1148.6 240.4L1149 235.1L1149.4 238.5L1149.8 236.1L1150.2 233.9L1150.6 240.8L1151 233.8L1151.4 233.5L1151.8 237L1152.2 242.4L1152.6 233.3L1153 233L1153.4 238.7L1153.8 234.7L1154.2 236.5L1154.6 234L1155 232.4L1155.4 238.3L1155.8 240.6L1156.2 239.3L1156.6 234L1157 234.7L1157.4 240.7L1157.8 236.2L1158.2 235.4L1158.6 231.8L1159 234.9L1159.4 239.6L1159.8 237.9L1160.2 240.5L1160.6 238.7L1161 236.1L1161.4 232.6L1161.8 232.7L1162.2 240.3L1162.6 231.6L1163 228.8L1163.4 237L1163.8 234.2L1164.2 228L1164.6 231.5L1165 229.2L1165.4 227.7L1165.8 234.7L1166.2 233.7L1166.6 229.5L1167 228.4L1167.4 231.7L1167.8 227.2L1168.2 230.6L1168.6 226L1169 227.7L1169.4 222.2L1169.8 231.1L1170.2 223.2L1170.6 221.8L1171 219.8L1171.4 220.4L1171.8 226.3L1172.2 225L1172.6 227.7L1173 218.5L1173.4 222.7L1173.8 226.1L1174.2 221.8L1174.6 226.9L1175 221L1175.4 223.5L1175.8 222L1176.2 224.4L1176.6 226.2L1177 227.9L1177.4 227.1L1177.8 230.7L1178.2 230.1L1178.6 229.1L1179 227L1179.4 234.1L1179.8 232.3L1180.2 232.3L1180.6 237.6L1181 232.9L1181.4 235L1181.8 233L1182.2 235.4L1182.6 232.7L1183 233.3L1183.4 232.8L1183.8 232.2L1184.2 238.5L1184.6 233L1185 232.9L1185.4 235.4L1185.8 240.4L1186.2 237.7L1186.6 237.8L1187 239.9L1187.4 244L1187.8 234.7L1188.2 237.5L1188.6 242.3L1189 237.7L1189.4 242.3L1189.8 236.6L1190.2 239.6L1190.6 236L1191 234.9L1191.4 242.6L1191.8 236.7L1192.2 241.1L1192.6 239.6L1193 242L1193.4 240.9L1193.8 242.4L1194.2 237.2L1194.6 239.2L1195 241.5L1195.4 241.9L1195.8 239.6L1196.2 240.5L1196.6 242L1197 238.2L1197.4 233L1197.8 235.9L1198.2 239.9L1198.6 239.7L1199 235.5L1199.4 238.9L1199.8 238.1L1200.2 237.1L1200.6 240.7L1201 241.1L1201.4 242.2L1201.8 235.7L1202.2 241.2L1202.6 235.7L1203 233.8L1203.4 231.8L1203.8 236.4L1204.2 233.2L1204.6 233.2L1205 231.4L1205.4 235.7L1205.8 235L1206.2 238.7L1206.6 239.4L1207 237.8L1207.4 235.4L1207.8 227.8L1208.2 228.9L1208.6 225.4L1209 233.4L1209.4 231L1209.8 229.5L1210.2 227.7L1210.6 227.3L1211 230.5L1211.4 230.4L1211.8 226.5L1212.2 232.4L1212.6 228.3L1213 228.5L1213.4 228.5L1213.8 229.7L1214.2 233.9L1214.6 237.5L1215 236.7L1215.4 238.1L1215.8 230.7L1216.2 237.6L1216.6 238.3L1217 235.7L1217.4 235.8L1217.8 235.2L1218.2 236.6L1218.6 234.9L1219 235.3L1219.4 240.3L1219.8 236.6L1220.2 241.3L1220.6 235.3L1221 243.3L1221.4 240.6L1221.8 240.5L1222.2 239.3L1222.6 244.7L1223 242.9L1223.4 240.6L1223.8 241.5L1224.2 241.2L1224.6 242.5L1225 240.5L1225.4 242.1L1225.8 243.9L1226.2 243.5L1226.6 239.9L1227 237.8L1227.4 241.1L1227.8 241.3L1228.2 247.9L1228.6 241.4L1229 240.1L1229.4 239L1229.8 242.8L1230.2 239.9L1230.6 237.3L1231 241.5L1231.4 244.9L1231.8 239.9L1232.2 238.6L1232.6 237.9L1233 240.6L1233.4 245.7L1233.8 242.3L1234.2 239.3L1234.6 243.8L1235 241.1L1235.4 244.4L1235.8 240.7L1236.2 238.4L1236.6 241.8L1237 239.4L1237.4 241.6L1237.9 237.8L1238.3 238L1238.7 238.4L1239.1 244.7L1239.5 244L1239.9 243.9L1240.3 244L1240.7 237.2L1241.1 243.2L1241.5 239.8L1241.9 241.3L1242.3 239.7L1242.7 245.5L1243.1 241.1L1243.5 238.3L1243.9 242.8L1244.3 238.7L1244.7 234.7L1245.1 242.1L1245.5 233.8L1245.9 237.9L1246.3 236.3L1246.7 237.7L1247.1 235.5L1247.5 233.9L1247.9 238.9L1248.3 236.7L1248.7 240.4L1249.1 238.3L1249.5 238.6L1249.9 232.9L1250.3 234.8L1250.7 234.1L1251.1 232.4L1251.5 236.4L1251.9 235.8L1252.3 235.1L1252.7 240L1253.1 241.1L1253.5 237.7L1253.9 240.8L1254.3 237.6L1254.7 234.2L1255.1 239L1255.5 243.1L1255.9 241.8L1256.3 237.4L1256.7 238L1257.1 244.7L1257.5 239L1257.9 240.4L1258.3 239L1258.7 243.6L1259.1 238.9L1259.5 241.8L1259.9 243.4L1260.3 242.8L1260.7 244.4L1261.1 240.1L1261.5 243.3L1261.9 241.8L1262.3 242.1L1262.7 245.7L1263.1 243.1L1263.5 240.7L1263.9 239.9L1264.3 244.7L1264.7 241.8L1265.1 246.1L1265.5 244.7L1265.9 248.6L1266.3 246.8L1266.7 242.5L1267.1 245L1267.5 247.7L1267.9 246.2L1268.3 241.2L1268.7 246.3L1269.1 242.6L1269.5 242.7L1269.9 241L1270.3 245.9L1270.7 246.9L1271.1 241.4L1271.5 243L1271.9 245.7L1272.3 243L1272.7 244.6L1273.1 243.1L1273.5 243.4L1273.9 244.4L1274.3 245.9L1274.7 246.2L1275.1 241.3L1275.5 246.9L1275.9 242.8L1276.3 246.9L1276.7 243.1L1277.1 242.1L1277.5 247.2L1277.9 245.8L1278.3 242.7L1278.7 239.9L1279.1 245.3L1279.5 239.2L1279.9 244.9L1280.3 240L1280.7 237.9L1281.1 246.7L1281.5 242.4L1281.9 243.6L1282.3 242.1L1282.7 243.3L1283.1 241.1L1283.5 239L1283.9 242.6L1284.3 239L1284.7 242.1L1285.1 243L1285.5 237.9L1285.9 239.2L1286.3 240.3L1286.7 238.5L1287.1 236.3L1287.5 235.2L1287.9 236.4L1288.3 238.2L1288.7 241.6L1289.1 239.7L1289.5 242.9L1289.9 237.8L1290.3 241.2L1290.7 244.1L1291.1 245.2L1291.5 242L1291.9 245.9L1292.3 244.4L1292.7 243.5L1293.1 243.3L1293.5 245.9L1293.9 245L1294.3 245.5L1294.7 244.5L1295.1 240.3L1295.5 243L1295.9 245L1296.3 242.7L1296.7 248.6L1297.1 239.9L1297.5 246.1L1297.9 242.1L1298.3 240.8L1298.7 241.3L1299.1 244.7L1299.5 243.3L1299.9 244L1300.3 242.5L1300.7 245.2L1301.1 242L1301.5 242.5L1301.9 247.5L1302.3 244L1302.7 245.5L1303.1 248.6L1303.5 243.2L1303.9 241L1304.3 242.8L1304.7 242.5L1305.1 246.5L1305.5 242.7L1305.9 245.9L1306.3 246.8L1306.7 248.3L1307.1 248.3L1307.5 246.6L1307.9 244.5L1308.3 249.1L1308.7 243.3L1309.1 248.2L1309.5 246.3L1309.9 250.1L1310.3 246.5L1310.7 243.8L1311.1 240.3L1311.5 245.7L1311.9 241.1L1312.3 249.4L1312.7 244.8L1313.1 250.2L1313.5 243.4L1313.9 243.4L1314.3 245.9L1314.7 244.6L1315.1 245.4L1315.5 246.8L1315.9 245.1L1316.3 246.4L1316.7 248.6L1317.1 243.5L1317.5 243.1L1317.9 247.7L1318.3 246.9L1318.7 246.2L1319.1 246.4L1319.5 242L1319.9 247.8L1320.3 248.4L1320.7 244.4L1321.1 243.5L1321.5 240.2L1321.9 239.6L1322.3 245.6L1322.7 244.8L1323.1 242.4L1323.5 245L1323.9 243.2L1324.3 244.2L1324.7 242.6L1325.1 246.2L1325.5 244.7L1325.9 240.2L1326.3 240.5L1326.7 240.6L1327.1 242.7L1327.5 241.5L1327.9 240.5L1328.3 248.3L1328.7 242L1329.1 239L1329.5 244.4L1329.9 246.4L1330.3 245.3L1330.7 247.4L1331.1 243L1331.5 246.2L1331.9 246.6L1332.3 248L1332.7 245.7L1333.1 246.4L1333.5 248.1L1333.9 249L1334.3 241.2L1334.7 247.2L1335.1 242.8L1335.5 248.5L1335.9 247.8L1336.3 242.8L1336.7 244.6L1337.1 246L1337.5 241.5L1337.9 249.2L1338.3 244.3L1338.7 249.2L1339.1 249.6L1339.5 249.2L1339.9 248.7L1340.3 250.5L1340.7 247.5L1341.1 244.2L1341.5 244.1L1341.9 250.5L1342.3 249.9L1342.7 246.1L1343.1 251L1343.5 244.1L1343.9 251.2L1344.3 247.6L1344.7 251.5L1345.1 250.4L1345.5 244.5L1345.9 245.5L1346.3 244.4L1346.7 248.6L1347.1 248.3L1347.5 243.4L1347.9 247.4L1348.3 250.2L1348.7 247.6L1349.1 248.3L1349.5 249.8L1349.9 244.6L1350.3 247.3L1350.7 250L1351.1 242.4L1351.5 243.1L1351.9 243.6L1352.3 243.4L1352.7 250.5L1353.1 242.1L1353.5 246.4L1353.9 249.6L1354.3 241.8L1354.7 244.5L1355.1 244L1355.5 249.8L1355.9 246.3L1356.3 244.9L1356.7 244.6L1357.1 246.8L1357.5 246.2L1357.9 245.9L1358.3 241.8L1358.7 249.6L1359.1 244.4L1359.5 247.3L1359.9 247.3L1360.3 243.4L1360.7 244.5L1361.1 242L1361.5 247.7"/>
</g>
<line class="t" x1="866.3" y1="262.6" x2="866.3" y2="274.1"/>
<line class="t" x1="990" y1="262.6" x2="990" y2="274.1"/>
<line class="t" x1="1113.8" y1="262.6" x2="1113.8" y2="274.1"/>
<line class="t" x1="1237.5" y1="262.6" x2="1237.5" y2="274.1"/>
<line class="t" x1="1361.3" y1="262.6" x2="1361.3" y2="274.1"/>
<line class="t" x1="854.8" y1="262.6" x2="866.3" y2="262.6"/>
<line class="t" x1="854.8" y1="150.1" x2="866.3" y2="150.1"/>
<line class="t" x1="854.8" y1="37.6" x2="866.3" y2="37.6"/>
<rect class="s" x="866.3" y="37.6" width="495" height="225"/>
<g clip-path="url(#cp10)">
<path class="c" stroke="#8b0000" d="M277.4 507.9L281.4 509.7L285.4 511.8L289.4 514.2L293.4 516.5L297.4 518.7L301.4 520.7L305.4 522.4L309.4 523.8L313.4 524.9L317.4 525.7L321.4 526.2L325.4 526.6L329.4 526.7L333.4 526.8L337.4 526.8L341.4 526.8L345.4 526.8L349.4 526.7L353.4 526.7L357.4 526.7L361.4 526.6L365.4 526.6L369.4 526.6L373.4 526.5L377.4 526.5L381.4 526.4L385.4 526.4L389.4 526.4L393.4 526.3L397.4 526.3L401.4 526.3L405.4 526.2L409.4 526.2L413.4 526.2L417.4 526.1L421.4 526.1L425.4 526L429.4 526L433.4 526L437.4 525.9L441.4 525.9L445.4 525.9L449.4 525.8L453.4 525.8L457.4 525.7L461.4 525.6L465.4 525.5L469.4 525.3L473.4 525.2L477.4 525.1L481.4 524.9L485.4 524.8L489.4 524.7L493.4 524.6L497.4 524.5L501.4 524.4L505.4 524.3L509.4 524.3L513.4 524.2L517.4 524.2L521.4 524.3L525.4 524.3L529.4 524.4L533.4 524.6L537.4 524.7L541.4 524.9L545.4 525L549.4 525.1L553.4 525.3L557.4 525.4L561.4 525.6L565.4 525.7L569.4 525.9L573.4 526L577.4 526.1L581.4 526.2L585.4 526.3L589.4 526.3L593.4 526.3L597.4 526.3L601.4 526.3L605.4 526.3L609.4 526.3L613.4 526.3L617.4 526.3L621.4 526.3L625.4 526.3L629.4 526.3L633.4 526.3L637.4 526.3L641.4 526.3L645.4 526.2L649.4 526.2L653.4 526.1L657.4 526.1L661.4 526L665.4 525.9L669.4 525.8L673.4 525.8L677.4 525.7L681.4 525.6L685.4 525.6L689.4 525.5L693.4 525.4L697.4 525.3L701.4 525.2L705.4 525.1L709.4 524.9L713.4 524.7L717.4 524.5L721.4 524.3L725.4 524.1L729.4 523.9L733.4 523.7L737.4 523.4L741.4 523.2L745.4 523L749.4 522.8L753.4 522.6L757.4 522.4L761.4 522.2L765.4 522L769.4 521.9"/>
<path class="c" stroke="#e9967a" d="M274.2 -29.8L276.7 532.5L279.2 532.2L281.7 532.1L284.2 531.5L286.7 530.9L289.2 528L291.7 507.9L294.2 527.9L296.7 530.7L299.2 530.5L301.7 530.1L304.2 528.1L306.7 520.8L309.2 354.8L311.7 278.8L314.2 518.3L316.7 528L319.2 530.1L321.7 530.5L324.2 530.7L326.7 530.9L329.2 531.1L331.7 531.3L334.2 531.2L336.7 530.7L339.2 530.4L341.7 529.3L344.2 525.9L346.7 473.3L349.2 269.4L351.7 504.2L354.2 526.6L356.7 529.3L359.2 530.1L361.7 530.5L364.2 530.6L366.7 530.8L369.2 530.8L371.7 530.9L374.2 530.8L376.7 530.1L379.2 529.3L381.7 526.8L384.2 503.6L386.7 278.4L389.2 451.7L391.7 524.1L394.2 528.7L396.7 529.6L399.2 530.1L401.7 530.4L404.2 530.1L406.7 530L409.2 530.1L411.7 530.1L414.2 529.6L416.7 528.4L419.2 525.8L421.7 511.8L424.2 290.8L426.7 306.8L429.2 512.8L431.7 525.6L434.2 527.8L436.7 527.5L439.2 526.8L441.7 523.1L444.2 516.3L446.7 523.6L449.2 527L451.7 527.3L454.2 527.1L456.7 522.3L459.2 496.1L461.7 415.1L464.2 366.5L466.7 458.5L469.2 513.1L471.7 525.6L474.2 528.2L476.7 529.1L479.2 529.4L481.7 529.7L484.2 530L486.7 529.8L489.2 528.7L491.7 527L494.2 522.9L496.7 501.8L499.2 426.3L501.7 341L504.2 407.4L506.7 492.9L509.2 520.2L511.7 526.6L514.2 528.3L516.7 529L519.2 529.8L521.7 529.3L524.2 528.8L526.7 528.9L529.2 528.5L531.7 525.4L534.2 513.8L536.7 478.8L539.2 419L541.7 430.1L544.2 491.3L546.7 518.5L549.2 525L551.7 526.7L554.2 528.1L556.7 528.7L559.2 528.6L561.7 528.2L564.2 527.6L566.7 527.3L569.2 525.5L571.7 519.4L574.2 500.7L576.7 460.7L579.2 448.3L581.7 485.2L584.2 513.8L586.7 522.5L589.2 524.4L591.7 525.9L594.2 526.9L596.7 527.1L599.2 527.3L601.7 526.3L604.2 525.9L606.7 525.9L609.2 522.7L611.7 512L614.2 486.4L616.7 467.9L619.2 486.3L621.7 511.6L624.2 523.1L626.7 526.4L629.2 526.6L631.7 526.1L634.2 526.1L636.7 526.5L639.2 526.5L641.7 524.8L644.2 523.6L646.7 522.3L649.2 514.4L651.7 491.1L654.2 464.7L656.7 473.1L659.2 501.9L661.7 517.5L664.2 522.9L666.7 525.1L669.2 524.9L671.7 524.4L674.2 524.1L676.7 523.8L679.2 523.5L681.7 522.9L684.2 521.8L686.7 516.4L689.2 503.4L691.7 484.2L694.2 479.8L696.7 498.7L699.2 515.8L701.7 520.8L704.2 522.3L706.7 523L709.2 521.8L711.7 522L714.2 522.1L716.7 521.7L719.2 521.3L721.7 519.8L724.2 516.7L726.7 508.9L729.2 492.8L731.7 483.5L734.2 494.5L736.7 510.4L739.2 517.6L741.7 519.7L744.2 521.3L746.7 522.6L749.2 522.7L751.7 522.6L754.2 522.6L756.7 522.5L759.2 521.8L761.7 519.9L764.2 515.7L766.7 504.9L769.2 496.6"/>
<path class="c" stroke="#4682b4" d="M273 -243.4L274.5 532.5L276.1 532.5L277.6 532.5L279.2 532.4L280.8 532.4L282.3 532.4L283.8 532.4L285.4 532.5L286.9 532.5L288.5 532.5L290 532.2L291.6 532.3L293.1 532.3L294.7 532L296.2 531.8L297.8 531.9L299.3 531.7L300.9 530.8L302.4 530L304 529.6L305.5 527.5L307.1 520.9L308.6 275.9L310.2 -1218.1L311.8 253L313.3 513L314.8 523.3L316.4 527.3L317.9 529.5L319.5 530.4L321 530.7L322.6 530.6L324.1 530.7L325.7 530.6L327.2 530.6L328.8 530.7L330.3 531L331.9 531.1L333.4 530.7L335 530.6L336.5 530.6L338.1 530.5L339.6 530.3L341.2 530.3L342.7 528.8L344.3 525.5L345.8 515.2L347.4 246.6L348.9 -1223.6L350.5 251.4L352 516.6L353.6 524.1L355.1 527.3L356.7 529.6L358.2 529.9L359.8 529.4L361.3 529.3L362.9 530.3L364.4 530.9L366 530.8L367.5 531.1L369.1 531.4L370.6 530.7L372.2 530.2L373.8 530.2L375.3 529.9L376.8 529.3L378.4 528.8L379.9 528.5L381.5 525.9L383 518.8L384.6 503.1L386.1 221.9L387.7 -1223.1L389.2 250.1L390.8 517.1L392.3 523.9L393.9 526.1L395.4 527.5L397 528.2L398.5 527.5L400.1 527.3L401.6 527.7L403.2 526L404.8 520.3L406.3 514.7L407.9 520.3L409.4 524.4L410.9 526.5L412.5 527.2L414 527.1L415.6 526.9L417.1 526.6L418.7 525.2L420.2 521.4L421.8 515L423.4 275.4L424.9 -1224.3L426.4 255.4L428 502.8L429.5 517.9L431.1 523.9L432.6 525.7L434.2 526.2L435.7 526.8L437.3 527.1L438.9 526.7L440.4 526.7L441.9 525.1L443.5 520.3L445 517.7L446.6 522.2L448.1 524.3L449.7 525L451.2 525.2L452.8 524.6L454.3 523.7L455.9 523.2L457.4 518.6L459 496.5L460.5 435.1L462.1 327L463.6 264.9L465.2 324.2L466.8 433.3L468.3 498.1L469.8 517.2L471.4 521.8L472.9 523.5L474.5 524.1L476 525.3L477.6 525.5L479.1 525.3L480.7 525L482.2 524.8L483.8 525.2L485.3 524.4L486.9 524.2L488.4 524.2L490 523.8L491.5 522.5L493.1 521.2L494.6 519L496.2 509.6L497.8 486.3L499.3 442.8L500.8 387.9L502.4 377.1L503.9 424.8L505.5 476.2L507 503.4L508.6 517L510.1 520.7L511.7 521.3L513.2 521.8L514.8 521.3L516.3 522.6L517.9 523.6L519.4 522.1L521 522.9L522.5 524.6L524.1 523.8L525.6 522.9L527.2 522.8L528.8 522.2L530.3 521.4L531.8 518.9L533.4 512.5L535 503.5L536.5 482.8L538 443.8L539.6 413.8L541.2 421.6L542.7 459.6L544.2 492.6L545.8 507.8L547.3 516.9L548.9 521.8L550.5 521.3L552 522.7L553.5 523.6L555.1 523.5L556.7 523.8L558.2 524.3L559.8 524.9L561.3 522.5L562.8 520.7L564.4 521.8L566 521.8L567.5 520.7L569 520L570.6 519.5L572.2 512.7L573.7 498.6L575.2 479.4L576.8 452.5L578.3 438.7L579.9 448.7L581.5 477.5L583 500.6L584.5 513.4L586.1 517.5L587.7 518.2L589.2 520.9L590.8 523.3L592.3 522.5L593.8 520.7L595.4 521L597 521.1L598.5 521.8L600 522.4L601.6 520.8L603.2 519.6L604.7 520.2L606.2 519.7L607.8 519.6L609.4 517.5L610.9 510.5L612.5 499.9L614 480.2L615.5 457.3L617.1 452.3L618.7 467.4L620.2 489.4L621.8 505.5L623.3 513.3L624.9 517.1L626.4 519L627.9 517.9L629.5 517.3L631 517.1L632.6 518.4L634.2 520.3L635.7 519.3L637.2 519.1L638.8 519.2L640.4 520L641.9 519.3L643.5 518L645 517.9L646.5 517L648.1 510.8L649.7 504L651.2 500.2L652.8 486.7L654.3 472.8L655.9 472.6L657.4 485.1L659 497.8L660.5 505.7L662 513L663.6 517.3L665.1 517.1L666.7 517.3L668.2 516.6L669.8 515.3L671.4 516.9L672.9 519.4L674.5 518.8L676 516.3L677.5 516.7L679.1 517.7L680.6 517L682.2 517.3L683.8 515.9L685.3 513L686.9 510.4L688.4 507.1L690 500.7L691.5 491.2L693 487.6L694.6 489.8L696.2 497.4L697.7 507.7L699.2 512.1L700.8 514.8L702.4 518.5L703.9 519.3L705.5 518.6L707 516.7L708.5 517.2L710.1 520.5L711.7 519.2L713.2 516.3L714.8 516.8L716.3 518.2L717.9 518.1L719.4 517.4L721 517.7L722.5 517.7L724 517.5L725.6 513.5L727.1 506.2L728.7 499L730.2 493.7L731.8 494.6L733.4 497.5L734.9 502.5L736.5 508.4L738 512.4L739.5 515.6L741.1 517.7L742.6 518.1L744.2 518.6L745.8 517.9L747.3 518.5L748.9 520.1L750.4 518.4L752 519.1L753.5 520.4L755 519.3L756.6 519.9L758.1 519.3L759.7 518.8L761.2 516.9L762.8 514.8L764.4 510.5L765.9 504.7L767.5 499.1"/>
<path class="c" stroke="#191970" d="M272.6 531.8L273 531.8L273.4 531.9L273.8 531.8L274.2 531.6L274.6 531.7L275 531.6L275.4 531.8L275.8 531.7L276.2 531.6L276.6 531.4L277 531.7L277.4 531.6L277.8 531.5L278.2 531.5L278.6 531.5L279 531.3L279.4 531.5L279.8 531.5L280.2 531.3L280.6 531.4L281 531.1L281.4 531.1L281.8 531.2L282.2 531.1L282.6 531L283 530.9L283.4 530.8L283.8 530.8L284.2 530.6L284.6 530.6L285 530.5L285.4 530.2L285.8 530.1L286.2 529.9L286.6 529.8L287 529.4L287.4 528.9L287.8 528.6L288.2 527.6L288.6 526.8L289 525.5L289.4 523.4L289.8 520.5L290.2 514.9L290.6 506.5L291 493.5L291.4 489.2L291.8 492.2L292.2 504.3L292.6 514L293 520.8L293.4 520.3L293.8 523.6L294.2 523.4L294.6 526.3L295 525.1L295.4 524.4L295.8 524.5L296.2 524.1L296.6 526.9L297 529.1L297.4 528.8L297.8 526.3L298.2 528.3L298.6 528.1L299 523.4L299.4 525.3L299.8 525.4L300.2 525.5L300.6 522.6L301 523L301.4 519.7L301.8 518.5L302.2 516.9L302.6 517.8L303 519L303.4 514.6L303.8 515.7L304.2 509.1L304.6 512.4L305 506L305.4 498.2L305.8 498.9L306.2 487.2L306.6 483.3L307 471.8L307.4 452.8L307.8 439.6L308.2 418.7L308.6 402.7L309 374.9L309.4 174.9L309.8 -715L310.2 -1329.6L310.6 -1389.3L311 -1371.1L311.4 -937.9L311.8 19.1L312.2 353.1L312.6 385.5L313 427.1L313.4 431.4L313.8 458.8L314.2 473.6L314.6 484.6L315 486.9L315.4 489.9L315.8 498.2L316.2 508.2L316.6 504.8L317 509.1L317.4 513.8L317.8 516.9L318.2 516.2L318.6 519.1L319 521.8L319.4 523.1L319.8 519.4L320.2 523.7L320.6 523.6L321 519.7L321.4 523.6L321.8 525.5L322.2 523.8L322.6 525.1L323 525L323.4 528.1L323.8 526.9L324.2 522.9L324.6 523.7L325 524.3L325.4 525L325.8 528.8L326.2 527.8L326.6 525.7L327 526.4L327.4 524.2L327.8 521L328.2 517.9L328.6 518.6L329 509.9L329.4 511.4L329.8 504L330.2 506.5L330.6 514.2L331 521.1L331.4 519L331.8 523L332.2 519.4L332.6 524.9L333 522.1L333.4 525L333.8 527L334.2 521.9L334.6 525.2L335 526L335.4 523.7L335.8 523.8L336.2 523.9L336.6 525.8L337 524.9L337.4 520.4L337.8 522.4L338.2 521.7L338.6 520.3L339 521.5L339.4 520.7L339.8 516L340.2 514.9L340.6 513.1L341 510.4L341.4 512.2L341.8 507.6L342.2 504.5L342.6 501.8L343 499.8L343.4 487.4L343.8 489.4L344.2 483.1L344.6 471.5L345 473.6L345.4 450.8L345.8 431.2L346.2 421.1L346.6 392.9L347 373.2L347.4 340.9L347.8 -40.7L348.2 -1018.6L348.6 -1383.5L349 -1395.7L349.4 -1280.1L349.8 -544.6L350.2 253.6L350.6 355L351 380.9L351.4 397L351.8 420.8L352.2 437.6L352.6 454.5L353 462.4L353.4 469.3L353.8 486.4L354.2 489.8L354.6 491.2L355 497.6L355.4 500.8L355.8 505.8L356.2 509.8L356.6 510.3L357 512L357.4 517.8L357.8 514.6L358.2 519.8L358.6 518.9L359 519.2L359.4 522.4L359.8 519.3L360.2 520.5L360.6 522L361 521.1L361.4 522.6L361.8 523.5L362.2 522.2L362.6 520.8L363 522.9L363.4 522L363.8 523.7L364.2 527.2L364.6 522.4L365 523.4L365.4 519.8L365.8 520.5L366.2 524.4L366.6 516.3L367 513.7L367.4 515L367.8 512.3L368.2 504.4L368.6 508.8L369 513.4L369.4 514.1L369.8 520.9L370.2 523.1L370.6 519L371 523.9L371.4 519.3L371.8 523.3L372.2 522.7L372.6 524.8L373 522L373.4 520.6L373.8 524.7L374.2 518.7L374.6 522.1L375 521.7L375.4 519.8L375.8 517.3L376.2 520.3L376.6 519.3L377 517.7L377.4 515.6L377.8 515.1L378.2 512.4L378.6 509.2L379 506.4L379.4 510.9L379.8 507.4L380.2 495.8L380.6 499.3L381 489.1L381.4 488.3L381.8 478.2L382.2 471.8L382.6 467L383 462.7L383.4 445L383.8 422.4L384.2 399.9L384.6 379.7L385 375L385.4 338.8L385.8 107.9L386.2 -715.5L386.6 -1302.7L387 -1385.3L387.4 -1386.9L387.8 -1216.6L388.2 -488L388.6 222.7L389 357L389.4 372.3L389.8 393.4L390.2 410.7L390.6 433.5L391 437.7L391.4 464.5L391.8 471.5L392.2 472.9L392.6 488.2L393 483.4L393.4 489.1L393.8 501.6L394.2 504.3L394.6 506.2L395 505.7L395.4 509.2L395.8 510.3L396.2 515.4L396.6 513.5L397 513.9L397.4 514.7L397.8 513.8L398.2 519.1L398.6 517.2L399 521.5L399.4 519.2L399.8 519.9L400.2 522.5L400.6 517.2L401 519L401.4 523.1L401.8 524L402.2 518.8L402.6 519L403 520.9L403.4 518.5L403.8 518.2L404.2 514.7L404.6 511.4L405 511.6L405.4 509.1L405.8 503.8L406.2 499.5L406.6 500.9L407 508.1L407.4 509.6L407.8 512.2L408.2 515.7L408.6 515.6L409 520.6L409.4 521.1L409.8 520.6L410.2 521.4L410.6 519.7L411 515.5L411.4 515.8L411.8 518.7L412.2 516.9L412.6 515.8L413 514.7L413.4 518.6L413.8 513.9L414.2 515.1L414.6 515.9L415 508.9L415.4 513.7L415.8 506.3L416.2 506.2L416.6 503.2L417 500.7L417.4 502.3L417.8 498.5L418.2 494.7L418.6 486.3L419 491.4L419.4 481.6L419.8 481.1L420.2 465.3L420.6 452.4L421 455.8L421.4 434.1L421.8 419.7L422.2 399.9L422.6 390.1L423 376.9L423.4 353.7L423.8 320.2L424.2 54.9L424.6 -863.3L425 -1353.4L425.4 -1402.6L425.8 -1347.8L426.2 -860.9L426.6 42.9L427 334.2L427.4 345.1L427.8 364.1L428.2 391.3L428.6 400L429 427.2L429.4 442.4L429.8 453.4L430.2 456.4L430.6 470.4L431 471.8L431.4 475.2L431.8 481.8L432.2 482.3L432.6 494L433 500L433.4 501.2L433.8 500.7L434.2 506.8L434.6 509.3L435 507.6L435.4 510.5L435.8 509.3L436.2 514.6L436.6 507.3L437 516.2L437.4 514.3L437.8 510.1L438.2 511.5L438.6 516.2L439 515.5L439.4 515.5L439.8 515.8L440.2 513.6L440.6 518.2L441 513.2L441.4 514.3L441.8 517L442.2 516.6L442.6 512.1L443 513.3L443.4 510.6L443.8 511.4L444.2 511.8L444.6 507.8L445 511L445.4 511.3L445.8 516L446.2 515.1L446.6 517.5L447 512.2L447.4 518.6L447.8 515.3L448.2 518.4L448.6 517.3L449 513.5L449.4 517.1L449.8 515.7L450.2 517.7L450.6 515.6L451 512.5L451.4 513.9L451.8 511.8L452.2 511.2L452.6 511.1L453 515.7L453.4 508.6L453.8 511.1L454.2 508.9L454.6 513.5L455 507.8L455.4 506.9L455.8 505.1L456.2 505.1L456.6 503.1L457 504.3L457.4 500.4L457.8 498.6L458.2 491L458.6 490L459 478.4L459.4 472.9L459.8 474.9L460.2 465.2L460.6 446.3L461 442.5L461.4 441.4L461.8 416.3L462.2 408.3L462.6 387.2L463 383.8L463.4 376.5L463.8 383.6L464.2 388.6L464.6 381L465 398.4L465.4 423.8L465.8 439.2L466.2 436.6L466.6 457.7L467 459.3L467.4 472.4L467.8 471.9L468.2 479.6L468.6 483L469 485.4L469.4 498.2L469.8 494.1L470.2 500.7L470.6 499.2L471 499.3L471.4 502.5L471.8 511.9L472.2 503.5L472.6 510L473 508.7L473.4 510.5L473.8 507.6L474.2 509.3L474.6 510.9L475 513.1L475.4 516.9L475.8 511.5L476.2 511L476.6 511.2L477 517.4L477.4 510.8L477.8 514.6L478.2 511.5L478.6 511.8L479 518.1L479.4 516.2L479.8 514.2L480.2 512.3L480.6 513.8L481 511.5L481.4 512.1L481.8 510.8L482.2 505.1L482.6 508.4L483 505.8L483.4 511.7L483.8 509.8L484.2 512.8L484.6 511L485 512.5L485.4 509.3L485.8 513.3L486.2 513.7L486.6 514.1L487 515.7L487.4 513.2L487.8 517.7L488.2 517.7L488.6 516.7L489 511.8L489.4 514.2L489.8 516.3L490.2 514L490.6 514.9L491 515.6L491.4 514.8L491.8 511.9L492.2 514.3L492.6 507.1L493 507.5L493.4 509.5L493.8 511.1L494.2 509.2L494.6 508L495 501L495.4 505.8L495.8 504.8L496.2 502.1L496.6 498.7L497 495.1L497.4 494.5L497.8 490.4L498.2 481.8L498.6 486.1L499 481.4L499.4 462.8L499.8 459.6L500.2 454.3L500.6 440.7L501 446.7L501.4 430.1L501.8 438.2L502.2 432.3L502.6 439.4L503 444.3L503.4 442.2L503.8 459.5L504.2 467L504.6 466.1L505 472.9L505.4 487.6L505.8 489L506.2 492L506.6 497.5L507 501.6L507.4 497L507.8 500.1L508.2 502L508.6 506.4L509 504.7L509.4 507.2L509.8 509.9L510.2 508.2L510.6 508L511 510.8L511.4 511.6L511.8 515.7L512.2 515.9L512.6 511.3L513 514.6L513.4 509.5L513.8 513.7L514.2 517.1L514.6 516L515 516.2L515.4 514.2L515.8 515.6L516.2 516.9L516.6 513.6L517 515.1L517.4 518.8L517.8 518L518.2 514.9L518.6 513.6L519 520.3L519.4 515.1L519.8 518.9L520.2 518.8L520.6 518.4L521 520.6L521.4 513.6L521.8 516.5L522.2 516.9L522.6 516.1L523 517.1L523.4 516L523.8 518L524.2 515.6L524.6 516.5L525 519.2L525.4 517.9L525.8 519.3L526.2 515.2L526.6 518.4L527 520.4L527.4 514.2L527.8 514.6L528.2 512.4L528.6 512.6L529 517.9L529.4 513.4L529.8 511.4L530.2 515.5L530.6 515.3L531 518.2L531.4 514.3L531.8 512.6L532.2 515L532.6 516.3L533 511.5L533.4 511.5L533.8 508.1L534.2 510.1L534.6 508.8L535 507.2L535.4 504.9L535.8 509.3L536.2 499.1L536.6 500.6L537 495.5L537.4 492.6L537.8 490.9L538.2 481.4L538.6 490.4L539 483.4L539.4 477.7L539.8 477.8L540.2 477.1L540.6 477L541 475L541.4 475.7L541.8 485.5L542.2 487.7L542.6 495.7L543 497.2L543.4 501.8L543.8 502.1L544.2 500.3L544.6 505.4L545 510.4L545.4 510.6L545.8 504.6L546.2 504.8L546.6 508.8L547 513L547.4 507.2L547.8 514.6L548.2 511.3L548.6 511.5L549 517.6L549.4 514.8L549.8 514.6L550.2 516.4L550.6 513L551 516.8L551.4 515.3L551.8 513.2L552.2 516.2L552.6 515L553 513.5L553.4 514.8L553.8 515.8L554.2 517.4L554.6 520.2L555 514.2L555.4 519L555.8 516L556.2 516.7L556.6 518.1L557 517.8L557.4 516.4L557.8 514.8L558.2 520.1L558.6 518.8L559 514.5L559.4 518.6L559.8 516L560.2 514.4L560.6 517.8L561 516.8L561.4 521L561.8 517.4L562.2 520.5L562.6 518.2L563 515.5L563.4 515.1L563.8 515.1L564.2 515.7L564.6 513.9L565 519.9L565.4 517.9L565.8 515.1L566.2 517L566.6 515.5L567 516.4L567.4 514.4L567.8 518.9L568.2 519.6L568.6 516.6L569 516.2L569.4 512.4L569.8 516L570.2 517.8L570.6 512.5L571 513.3L571.4 516.6L571.8 512.7L572.2 512.1L572.6 514.1L573 509.2L573.4 509.2L573.8 505.2L574.2 509.3L574.6 504.7L575 510.8L575.4 502.9L575.8 502.7L576.2 499L576.6 494.8L577 495.4L577.4 500.4L577.8 490.4L578.2 492.5L578.6 493L579 494.2L579.4 496L579.8 499.3L580.2 501.3L580.6 500.6L581 500.8L581.4 501.5L581.8 503.2L582.2 505.1L582.6 506.6L583 512.2L583.4 511.9L583.8 516L584.2 513.8L584.6 510.4L585 511.8L585.4 510.7L585.8 516.8L586.2 513L586.6 515.9L587 513.5L587.4 515.1L587.8 516.5L588.2 516.4L588.6 515.7L589 514.4L589.4 520.5L589.8 515.4L590.2 518.1L590.6 516L591 517L591.4 520.8L591.8 520.4L592.2 520.4L592.6 519.8L593 518.8L593.4 517.2L593.8 519.5L594.2 520.1L594.6 518.2L595 517.3L595.4 521.3L595.8 520.6L596.2 518.1L596.6 518.2L597 515.9L597.4 517.6L597.8 517.3L598.2 516.3L598.6 518.4L599 517.7L599.4 522.8L599.8 521.1L600.2 520.1L600.6 520.9L601 518.5L601.4 517.8L601.8 520.8L602.2 515.1L602.6 517.5L603 519.2L603.4 518.9L603.8 519.6L604.2 516.1L604.6 520.2L605 516.5L605.4 518.8L605.8 519.4L606.2 515.3L606.6 515.8L607 518.9L607.4 518.4L607.8 516.4L608.2 515.7L608.6 517.4L609 516.4L609.4 514.7L609.8 516.4L610.2 512.9L610.6 516.4L611 514.5L611.4 514.3L611.8 517.1L612.2 511.1L612.6 509.5L613 513.5L613.4 512.7L613.8 511.6L614.2 507.5L614.6 504L615 504.4L615.4 504.3L615.8 498.1L616.2 506.4L616.6 501.9L617 507.5L617.4 500.8L617.8 499.5L618.2 507.7L618.6 508.5L619 505.1L619.4 504.4L619.8 508.6L620.2 513.5L620.6 510.5L621 510.1L621.4 513L621.8 514.1L622.2 517.2L622.6 512.9L623 517.6L623.4 518.6L623.8 516.3L624.2 517.7L624.6 520.4L625 520.9L625.4 517L625.8 520.5L626.2 516.4L626.6 519.3L627 516.2L627.4 519.3L627.8 519.3L628.2 519.6L628.6 521.5L629 521.4L629.4 520.9L629.8 521.9L630.2 521.8L630.6 521L631 519.9L631.4 518.9L631.8 519.9L632.2 516.4L632.6 521.4L633 520.7L633.4 522.3L633.8 519.9L634.2 520.7L634.6 519.1L635 519.3L635.4 521.6L635.8 520.3L636.2 522.5L636.6 518L637 520.1L637.4 521.1L637.8 518.5L638.2 523.8L638.6 518.7L639 521L639.4 518.4L639.8 522.2L640.2 519.4L640.6 519.8L641 517.7L641.4 520.7L641.8 521.1L642.2 523.5L642.6 518.7L643 520.4L643.4 523L643.8 517.3L644.2 522.3L644.6 518.5L645 522.2L645.4 519.1L645.8 519.5L646.2 517.8L646.6 520.8L647 519.7L647.4 517.2L647.8 516.8L648.2 517.1L648.6 520.5L649 517.6L649.4 518.6L649.8 520.2L650.2 515L650.6 514.5L651 513.6L651.4 515.8L651.8 516L652.2 513L652.6 514.7L653 510.6L653.4 512.3L653.8 511.1L654.2 512.3L654.6 512.9L655 508.7L655.4 512.9L655.8 513.5L656.2 510.6L656.6 518.4L657 513.9L657.4 510.6L657.8 510.6L658.2 514.5L658.6 518.2L659 517.1L659.4 516.4L659.8 515.4L660.2 517.8L660.6 519.3L661 520.9L661.4 520.3L661.8 518.8L662.2 518L662.6 520.6L663 521.3L663.4 519.3L663.8 520.5L664.2 522.2L664.6 520.2L665 522.2L665.4 521.1L665.8 522.1L666.2 518L666.6 517.7L667 521.2L667.4 520.8L667.8 521.2L668.2 518.7L668.6 523.6L669 516.8L669.4 520.3L669.8 523.1L670.2 522.3L670.6 519L671 520.3L671.4 519.2L671.8 517.5L672.2 522.1L672.6 518.4L673 523L673.4 521.2L673.8 520.7L674.2 518.1L674.6 519.9L675 518.6L675.4 520.4L675.8 518.6L676.2 518.3L676.6 520.7L677 518.8L677.4 521.1L677.8 522L678.2 519.6L678.6 520.1L679 518.7L679.4 520.1L679.8 520L680.2 519.9L680.6 521.6L681 520.9L681.4 520.3L681.8 521.3L682.2 519.8L682.6 520.6L683 521.1L683.4 521.8L683.8 520.2L684.2 517.7L684.6 523.1L685 520.3L685.4 517.3L685.8 523.1L686.2 522.7L686.6 522.3L687 518.2L687.4 519.5L687.8 518.4L688.2 520.4L688.6 518.1L689 517.1L689.4 516.2L689.8 514.9L690.2 518.8L690.6 519.9L691 515.1L691.4 518L691.8 513.7L692.2 520.7L692.6 516.3L693 511.7L693.4 513.7L693.8 515.9L694.2 517.3L694.6 519.1L695 518.8L695.4 516.1L695.8 516.9L696.2 519.3L696.6 521.8L697 517.8L697.4 522.6L697.8 520.3L698.2 520.9L698.6 523.4L699 520L699.4 523.2L699.8 522.1L700.2 524.2L700.6 522.7L701 521.4L701.4 520.1L701.8 520.8L702.2 522.9L702.6 524.9L703 520.6L703.4 521.7L703.8 519.4L704.2 520.7L704.6 523L705 519L705.4 521L705.8 525.5L706.2 523.6L706.6 521.1L707 525.1L707.4 521.3L707.8 524.8L708.2 525.7L708.6 522.2L709 520L709.4 520.8L709.8 524.1L710.2 521.9L710.6 521.6L711 526.1L711.4 525.9L711.8 525.5L712.2 522.3L712.6 525.4L713 521.6L713.4 524.1L713.8 526.2L714.2 523.4L714.6 525.6L715 522.6L715.4 522.4L715.8 523.4L716.2 522.9L716.6 522.1L717 522.9L717.4 523.7L717.8 524.6L718.2 522.7L718.6 523.2L719 526.2L719.4 526.4L719.8 525.6L720.2 522.9L720.6 526.7L721 525.9L721.4 522L721.8 522.1L722.2 524L722.6 521.9L723 522.5L723.4 525.3L723.8 521.1L724.2 519.9L724.6 520.8L725 525.3L725.4 521.2L725.8 526.1L726.2 522.8L726.6 520.5L727 523.9L727.4 520.5L727.8 521.8L728.2 522.7L728.6 518.9L729 519L729.4 518.6L729.8 518.8L730.2 520L730.6 519.5L731 521.5L731.4 520.9L731.8 521.6L732.2 518.8L732.6 521.3L733 523.5L733.4 521.6L733.8 517.4L734.2 520.2L734.6 521.9L735 524.5L735.4 518.9L735.8 522.4L736.2 522.4L736.6 523.1L737 523.8L737.4 526.1L737.8 525.5L738.2 524.3L738.6 523L739 525.4L739.4 524.2L739.8 527.9L740.2 527.1L740.6 520.6L741 524.1L741.4 525.2L741.8 522.5L742.2 523.2L742.6 528.5L743 527.7L743.4 523.5L743.8 524.4L744.2 523.9L744.6 522.7L745 523.7L745.4 523.9L745.8 525.5L746.2 526.3L746.6 526.4L747 523.8L747.4 526.4L747.8 523.8L748.2 525.3L748.6 525.2L749 523.1L749.4 525.2L749.8 523.8L750.2 526.4L750.6 526.1L751 528.9L751.4 527.7L751.8 526.6L752.2 526.7L752.6 526.6L753 524L753.4 528.5L753.8 526.3L754.2 526.3L754.6 523.2L755 527L755.4 521.9L755.8 523.9L756.2 525.6L756.6 526.4L757 525.4L757.4 520.7L757.8 526.1L758.2 525.2L758.6 524.2L759 523.4L759.4 522.5L759.8 525.8L760.2 523.1L760.6 522.3L761 526.3L761.4 523.4L761.8 524L762.2 527.9L762.6 525.3L763 521L763.4 524.2L763.8 524.4L764.2 524L764.6 524.5L765 524.5L765.4 520.4L765.8 523.1L766.2 520.9L766.6 520.5L767 522.7L767.4 519.2"/>
</g>
<line class="t" x1="272.4" y1="532.5" x2="272.4" y2="544"/>
<line class="t" x1="396.1" y1="532.5" x2="396.1" y2="544"/>
<line class="t" x1="519.8" y1="532.5" x2="519.8" y2="544"/>
<line class="t" x1="643.5" y1="532.5" x2="643.5" y2="544"/>
<line class="t" x1="767.2" y1="532.5" x2="767.2" y2="544"/>
<line class="t" x1="260.9" y1="532.5" x2="272.4" y2="532.5"/>
<line class="t" x1="260.9" y1="420.1" x2="272.4" y2="420.1"/>
<line class="t" x1="260.9" y1="307.6" x2="272.4" y2="307.6"/>
<rect class="s" x="272.4" y="307.6" width="494.8" height="224.9"/>
<g clip-path="url(#cp11)">
<path class="c" stroke="#8b0000" d="M871.3 476.7L875.3 481.2L879.3 486.9L883.3 493.1L887.3 499.4L891.3 505.2L895.3 510.2L899.3 514.2L903.3 517.2L907.3 519.4L911.3 520.9L915.3 521.9L919.3 522.6L923.3 523L927.3 523.2L931.3 523.4L935.3 523.5L939.3 523.6L943.3 523.6L947.3 523.7L951.3 523.7L955.3 523.8L959.3 523.8L963.3 523.8L967.3 523.9L971.3 523.9L975.3 523.9L979.3 524L983.3 524L987.3 524L991.4 524L995.4 524L999.4 524L1003.4 523.9L1007.4 523.9L1011.4 523.9L1015.4 523.8L1019.4 523.8L1023.4 523.8L1027.4 523.7L1031.4 523.7L1035.4 523.7L1039.4 523.6L1043.4 523.6L1047.4 523.5L1051.4 523.5L1055.4 523.4L1059.4 523.4L1063.4 523.3L1067.4 523.2L1071.4 523.2L1075.4 523.1L1079.4 523L1083.4 522.9L1087.4 522.9L1091.4 522.8L1095.4 522.7L1099.4 522.6L1103.4 522.6L1107.4 522.5L1111.4 522.5L1115.4 522.5L1119.4 522.5L1123.4 522.5L1127.4 522.5L1131.4 522.5L1135.4 522.6L1139.4 522.7L1143.4 522.7L1147.4 522.9L1151.4 523L1155.4 523.2L1159.4 523.3L1163.4 523.5L1167.4 523.7L1171.4 523.9L1175.4 524.1L1179.4 524.3L1183.4 524.5L1187.4 524.7L1191.4 524.9L1195.4 525.1L1199.4 525.3L1203.4 525.5L1207.4 525.6L1211.4 525.6L1215.4 525.6L1219.4 525.6L1223.4 525.6L1227.4 525.5L1231.4 525.5L1235.4 525.4L1239.5 525.3L1243.5 525.2L1247.5 525L1251.5 524.8L1255.5 524.7L1259.5 524.5L1263.5 524.3L1267.5 524.1L1271.5 523.9L1275.5 523.7L1279.5 523.5L1283.5 523.2L1287.5 523L1291.5 522.8L1295.5 522.5L1299.5 522.2L1303.5 521.9L1307.5 521.5L1311.5 521.1L1315.5 520.6L1319.5 520.2L1323.5 519.8L1327.5 519.5L1331.5 519.2L1335.5 518.9L1339.5 518.7L1343.5 518.5L1347.5 518.4L1351.5 518.3L1355.5 518.1L1359.5 518L1363.5 518"/>
<path class="c" stroke="#e9967a" d="M867.9 138.9L870.4 532.5L872.9 532.2L875.4 532L877.9 531.7L880.4 531L882.9 527.8L885.4 508L887.9 527.9L890.4 530.6L892.9 530.8L895.4 530.7L897.9 529.6L900.4 524.7L902.9 409.7L905.4 278.8L907.9 517.5L910.4 528.4L912.9 530.1L915.4 530.7L917.9 530.8L920.4 530.7L922.9 530.6L925.4 530.6L927.9 530.9L930.4 530.8L932.9 530.6L935.4 530.1L937.9 527.1L940.4 485.4L942.9 269.1L945.4 495.2L947.9 527.2L950.4 529.5L952.9 530.3L955.4 530.2L957.9 530.5L960.4 530.8L962.9 530.6L965.4 530.6L967.9 530.4L970.4 529.9L972.9 529.3L975.4 526.9L977.9 506.2L980.4 280.6L982.9 422L985.4 524.2L987.9 528.4L990.5 529.6L993 530.3L995.5 530.3L998 530.1L1000.5 529.8L1003 529.8L1005.5 529.6L1008 528.6L1010.5 526.6L1013 521.9L1015.5 490.7L1018 369.2L1020.5 353L1023 482.8L1025.5 520.4L1028 526.6L1030.5 528.2L1033 526.9L1035.5 523.3L1038 518.7L1040.5 524.5L1043 526.6L1045.5 526.9L1048 526.9L1050.5 524.3L1053 507.9L1055.5 437.7L1058 380.4L1060.5 465.2L1063 515.6L1065.5 524.9L1068 526.9L1070.5 527.6L1073 526.9L1075.5 523.9L1078 519.3L1080.5 523.2L1083 525.5L1085.5 526.6L1088 524.6L1090.5 511.5L1093 455.7L1095.5 377.8L1098 426.8L1100.5 500.3L1103 521.8L1105.5 525.6L1108 527.1L1110.5 528L1113 527.8L1115.5 527.9L1118 528.3L1120.5 527.7L1123 527.2L1125.5 525.4L1128 519L1130.5 492.7L1133 438L1135.5 442.4L1138 495.6L1140.5 519.2L1143 524.9L1145.5 526.4L1148 527.2L1150.5 527.1L1153 526.7L1155.5 526.9L1158 526.8L1160.5 526.2L1163 525.5L1165.5 523.1L1168 512.4L1170.5 486.4L1173 475.3L1175.5 499.5L1178 518.7L1180.5 524.1L1183 525L1185.5 525.6L1188 526.2L1190.5 525.8L1193 525.6L1195.5 526L1198 526L1200.5 525.7L1203 523.5L1205.5 516.2L1208 497.9L1210.5 480L1213 491.1L1215.5 513.7L1218 523.3L1220.5 524.6L1223 524.8L1225.5 525.4L1228 526.3L1230.5 525.9L1233 525.2L1235.5 525.5L1238.1 525.3L1240.6 523.6L1243.1 518.6L1245.6 503.6L1248.1 485.8L1250.6 490.8L1253.1 510.6L1255.6 522.2L1258.1 523.8L1260.6 523L1263.1 524.1L1265.6 524.6L1268.1 524.3L1270.6 524.5L1273.1 524.3L1275.6 524.2L1278.1 523.5L1280.6 520.5L1283.1 511.8L1285.6 497.7L1288.1 495.5L1290.6 509.6L1293.1 519.5L1295.6 522.7L1298.1 524.3L1300.6 524.2L1303.1 523.9L1305.6 524L1308.1 524.1L1310.6 523.7L1313.1 523.7L1315.6 523.3L1318.1 520.7L1320.6 514.5L1323.1 504.2L1325.6 497.3L1328.1 504.6L1330.6 517L1333.1 521.9L1335.6 523.7L1338.1 525L1340.6 525.6L1343.1 525.1L1345.6 524.2L1348.1 524.1L1350.6 524.3L1353.1 524.6L1355.6 523.4L1358.1 519L1360.6 511.9L1363.1 506.3"/>
<path class="c" stroke="#4682b4" d="M866.9 -243.4L868.5 532.5L870 532.4L871.6 532.3L873.1 532.4L874.7 532.5L876.2 532.5L877.8 532.4L879.3 532.4L880.9 532.5L882.4 532.5L884 532.4L885.5 532.5L887.1 532.3L888.6 532L890.2 531.7L891.7 531.7L893.3 531.7L894.8 531.3L896.4 530.5L897.9 528.9L899.5 526.2L901 521.2L902.6 275.3L904.1 -1223.1L905.7 250.6L907.2 513.9L908.8 524.7L910.3 527.9L911.9 528.6L913.4 529.8L915 530.4L916.5 528.8L918.1 527.7L919.6 526.2L921.2 522.6L922.7 512.9L924.3 503.2L925.8 514.5L927.4 522.4L928.9 526.6L930.5 527.5L932 527.9L933.6 528.4L935.1 527.9L936.7 527.4L938.2 523.8L939.8 513.4L941.3 248.6L942.9 -1222.2L944.4 249.1L946 513.4L947.5 524L949.1 527.2L950.6 528.8L952.2 529.8L953.7 529.7L955.3 530.5L956.8 530.1L958.4 530L959.9 530.4L961.5 529.7L963 529.7L964.6 529.8L966.1 529.7L967.7 529.6L969.2 529.8L970.8 529.4L972.3 528.1L973.9 526.6L975.4 525.1L977 520.7L978.5 507.3L980.1 226.1L981.6 -1224L983.2 248.6L984.7 518.3L986.3 523.7L987.8 527L989.4 527.7L991 526.5L992.5 527L994.1 527.9L995.6 527.3L997.2 523.3L998.7 518.5L1000.3 515.2L1001.8 520L1003.4 525.4L1004.9 527.7L1006.5 527.9L1008 527.9L1009.6 527.9L1011.1 527L1012.7 524L1014.2 515.9L1015.8 482.8L1017.3 385.7L1018.9 272.7L1020.4 301.2L1022 427.8L1023.5 502.1L1025.1 522.3L1026.6 525L1028.2 526.3L1029.7 527.4L1031.3 527.1L1032.8 526.3L1034.4 525.5L1035.9 524.2L1037.5 518.2L1039 510.2L1040.6 516.9L1042.1 522.5L1043.7 524.2L1045.2 526.1L1046.8 526L1048.3 524.1L1049.9 522.6L1051.4 517.9L1053 498.7L1054.5 443.1L1056.1 346.8L1057.6 292.3L1059.2 347.4L1060.7 445.2L1062.3 501.3L1063.8 519.3L1065.4 522.5L1066.9 524.7L1068.5 526.9L1070 526L1071.6 525.8L1073.1 526L1074.7 526.5L1076.2 525.6L1077.8 523.7L1079.3 524.9L1080.9 526.4L1082.4 526.1L1084 523.9L1085.5 523L1087.1 522.6L1088.6 520.6L1090.2 515.5L1091.7 499.9L1093.3 467.9L1094.8 432.8L1096.4 427.1L1097.9 453.7L1099.5 489.7L1101 509.6L1102.6 515.8L1104.1 518.6L1105.7 521.2L1107.2 522.6L1108.8 522.3L1110.3 523.8L1111.9 522.4L1113.4 521.1L1115 522.8L1116.6 522.8L1118.1 522.8L1119.7 522L1121.2 521.5L1122.8 520.9L1124.3 519.4L1125.9 519.2L1127.4 517.6L1129 509.6L1130.5 494.4L1132.1 475.2L1133.6 460.2L1135.2 463.2L1136.7 482.6L1138.3 500L1139.8 508.7L1141.4 513.7L1142.9 518.2L1144.5 520L1146 519.6L1147.6 518.5L1149.1 518.7L1150.7 518.3L1152.2 517.8L1153.8 518.5L1155.3 518.7L1156.9 518.7L1158.4 517.2L1160 517.2L1161.5 517.7L1163.1 517L1164.6 516.9L1166.2 514.4L1167.7 506L1169.3 491.2L1170.8 478.4L1172.4 473.3L1173.9 478.1L1175.5 492.7L1177 506.2L1178.6 514.9L1180.1 516L1181.7 516.8L1183.2 520.3L1184.8 519.8L1186.3 518.3L1187.9 519.4L1189.4 519.6L1191 519.5L1192.5 519.1L1194.1 518.6L1195.6 518.1L1197.2 517.5L1198.7 517.5L1200.3 518.2L1201.8 517.5L1203.4 516.2L1204.9 515L1206.5 506.1L1208 493.8L1209.6 483.3L1211.1 479.1L1212.7 488.4L1214.2 502.5L1215.8 510.7L1217.3 515.1L1218.9 518.8L1220.4 519.7L1222 520L1223.5 521L1225.1 520.6L1226.6 520L1228.2 520.8L1229.7 519.7L1231.3 520.3L1232.8 520.7L1234.4 519.6L1235.9 520.3L1237.5 520.7L1239.1 520L1240.6 516.9L1242.2 516.1L1243.7 516L1245.3 510.2L1246.8 499.3L1248.4 493.2L1249.9 494.2L1251.5 501.9L1253 510.7L1254.6 514.3L1256.1 518.3L1257.7 519.1L1259.2 518.3L1260.8 520.2L1262.3 521.1L1263.9 519.6L1265.4 519.7L1267 520.9L1268.5 519.6L1270.1 520.1L1271.6 520.4L1273.2 520.1L1274.7 521.2L1276.3 520L1277.8 519.7L1279.4 519L1280.9 517.3L1282.5 514.4L1284 507.9L1285.6 503.8L1287.1 503.6L1288.7 502.7L1290.2 507.4L1291.8 512.9L1293.3 515.6L1294.9 519.8L1296.4 521.9L1298 520.9L1299.5 520.1L1301.1 521.1L1302.6 520.7L1304.2 520.8L1305.7 522L1307.3 522.1L1308.8 520.9L1310.4 519.9L1311.9 521L1313.5 520.6L1315 519.5L1316.6 517.9L1318.1 517.1L1319.7 517.6L1321.2 514.9L1322.8 509.1L1324.3 504.5L1325.9 503.6L1327.4 504.4L1329 511.1L1330.5 518.7L1332.1 521L1333.6 521L1335.2 521.6L1336.7 522.7L1338.3 522.5L1339.8 520.6L1341.4 519.8L1342.9 520.9L1344.5 522.3L1346 522.8L1347.6 523L1349.1 524.1L1350.7 523.1L1352.2 522.9L1353.8 521.2L1355.3 520.1L1356.9 521.1L1358.4 520.2L1360 518.3L1361.6 514.2"/>
<path class="c" stroke="#191970" d="M866.5 531.8L866.9 531.8L867.3 531.6L867.7 531.8L868.1 531.7L868.5 531.7L868.9 531.6L869.3 531.5L869.7 531.7L870.1 531.6L870.5 531.6L870.9 531.6L871.3 531.5L871.7 531.4L872.1 531.5L872.5 531.6L872.9 531.3L873.3 531.4L873.7 531.3L874.1 531.3L874.5 531.3L874.9 531.2L875.3 531.1L875.7 531.1L876.1 531.1L876.5 530.9L876.9 530.8L877.3 530.8L877.7 530.7L878.1 530.5L878.5 530.5L878.9 530.1L879.3 530.2L879.7 529.9L880.1 529.6L880.5 529.3L880.9 529.1L881.3 528.7L881.7 528.1L882.1 527L882.5 525.9L882.9 524.4L883.3 522.2L883.7 518.3L884.1 512.2L884.5 502.2L884.9 486.7L885.3 477.6L885.7 487.8L886.1 501.3L886.5 513.4L886.9 517.8L887.3 519.3L887.7 523.4L888.1 527.2L888.5 523.1L888.9 525L889.3 528.9L889.7 526.1L890.1 524.8L890.5 527.7L890.9 530.1L891.3 526.8L891.7 525.5L892.1 528.3L892.5 523.5L892.9 527.8L893.3 525.2L893.7 527.5L894.1 522.6L894.5 522.6L894.9 521.3L895.3 523.6L895.7 519.7L896.1 521.9L896.5 515.9L896.9 515.5L897.3 514.4L897.7 512.4L898.1 515.2L898.5 507.5L898.9 506.6L899.3 501.3L899.7 492.6L900.1 490.2L900.5 482.5L900.9 475.9L901.3 453.5L901.7 450.1L902.1 412.1L902.5 406.1L902.9 376.4L903.3 175.6L903.7 -719.7L904.1 -1322L904.5 -1392.5L904.9 -1356.3L905.3 -934.8L905.7 14.9L906.1 353.2L906.5 381.6L906.9 417.4L907.3 441.7L907.7 456.2L908.1 470.1L908.5 479.1L908.9 482.1L909.3 497.1L909.7 502.5L910.1 499.4L910.5 509.1L910.9 510.7L911.3 508.7L911.7 511.9L912.1 521.2L912.5 519.1L912.9 521.9L913.3 521.6L913.7 520.9L914.1 519.6L914.5 522.2L914.9 524.3L915.3 524.2L915.7 520.5L916.1 523.3L916.5 527.5L916.9 523.3L917.3 525L917.7 527.3L918.1 528.3L918.5 523.1L918.9 522.9L919.3 526.3L919.7 522.7L920.1 525.9L920.5 523.1L920.9 522.5L921.3 523.3L921.7 518.7L922.1 516.3L922.5 518.9L922.9 512.2L923.3 502.7L923.7 503.3L924.1 510.9L924.5 513.1L924.9 512.7L925.3 518.1L925.7 521L926.1 521.6L926.5 521.7L926.9 521.5L927.3 524.6L927.7 524.1L928.1 523.6L928.5 525.5L928.9 527.9L929.3 522.6L929.7 523.8L930.1 524.3L930.5 523.6L930.9 523.8L931.3 523.6L931.7 520.2L932.1 518.5L932.5 521.1L932.9 519.8L933.3 520.7L933.7 519.7L934.1 517.2L934.5 517.1L934.9 510.6L935.3 514.7L935.7 511.9L936.1 506.2L936.5 500L936.9 494.5L937.3 490.3L937.7 491.7L938.1 478.2L938.5 476.3L938.9 456.2L939.3 444.4L939.7 442.1L940.1 407.4L940.5 390.8L940.9 371.5L941.3 335.7L941.7 -49L942.1 -1005.9L942.5 -1367L942.9 -1386.5L943.3 -1284.1L943.7 -539L944.1 242.1L944.5 349.8L944.9 378.6L945.3 402.4L945.7 427.8L946.1 443.3L946.5 452.3L946.9 471.4L947.3 481L947.7 484.3L948.1 492.4L948.5 495L948.9 501.7L949.3 505.9L949.7 505.6L950.1 513.2L950.5 515.8L950.9 513.1L951.3 513.1L951.7 512.6L952.1 518.1L952.5 519.2L952.9 517.6L953.3 523.3L953.7 520.5L954.1 523.1L954.5 523L954.9 523.8L955.3 520.7L955.7 525.9L956.1 526.7L956.5 519.8L956.9 525.2L957.3 522L957.7 525L958.1 523.9L958.5 524.6L958.9 522.3L959.3 521.1L959.7 522.2L960.1 520.1L960.5 518.8L960.9 517.1L961.3 512.6L961.7 509.7L962.1 505.8L962.5 507.8L962.9 512.1L963.3 512.9L963.7 521.3L964.1 517.9L964.5 522.4L964.9 523.9L965.3 523.1L965.7 523.1L966.1 524.2L966.5 522.5L966.9 523.2L967.3 523.1L967.7 523.8L968.1 522.9L968.5 517.9L968.9 519.4L969.3 517.3L969.7 521.7L970.1 516.7L970.5 516.9L970.9 513.7L971.3 511.1L971.7 516.6L972.1 510.6L972.5 510.3L972.9 506.8L973.3 504.1L973.7 505.6L974.1 504.2L974.5 491.1L974.9 494.4L975.3 486.8L975.7 474.2L976.1 477.4L976.5 463.3L976.9 449.1L977.3 448.1L977.7 422.6L978.1 402.8L978.5 395.2L978.9 363.4L979.3 332.8L979.7 106.4L980.1 -705L980.5 -1297.1L980.9 -1390L981.3 -1389.3L981.7 -1216.1L982.1 -483.9L982.5 208.5L982.9 354.1L983.3 379.3L983.7 391.9L984.1 404.5L984.5 435.1L984.9 444.6L985.3 456.7L985.7 470.7L986.1 466.4L986.5 483.7L986.9 481.9L987.3 493.3L987.7 491.6L988.1 499L988.5 507.4L988.9 504.9L989.3 505.1L989.7 506.2L990.2 513.4L990.6 510.6L991 515L991.4 512.5L991.8 515.8L992.2 514.2L992.6 517.5L993 518.3L993.4 517.5L993.8 519.2L994.2 520.5L994.6 515.4L995 518.1L995.4 516.9L995.8 523L996.2 520.6L996.6 519.3L997 519.4L997.4 520.1L997.8 516.4L998.2 519.6L998.6 516L999 515L999.4 507.1L999.8 503.2L1000.2 501.5L1000.6 507.9L1001 514.3L1001.4 517.6L1001.8 517.9L1002.2 518.2L1002.6 516.7L1003 517.8L1003.4 521L1003.8 518.4L1004.2 519.5L1004.6 520L1005 517.6L1005.4 517L1005.8 520.7L1006.2 517.5L1006.6 521.2L1007 520.2L1007.4 521.3L1007.8 517.1L1008.2 514.4L1008.6 515L1009 519.2L1009.4 517.8L1009.8 513.8L1010.2 512.3L1010.6 512.4L1011 513.4L1011.4 510.6L1011.8 507L1012.2 509.8L1012.6 502.7L1013 500L1013.4 496.8L1013.8 494.7L1014.2 492.2L1014.6 489.4L1015 481.3L1015.4 476.9L1015.8 470.4L1016.2 459.9L1016.6 452.2L1017 450.4L1017.4 436.4L1017.8 405.4L1018.2 382.7L1018.6 374.9L1019 373.3L1019.4 363.6L1019.8 360.2L1020.2 379L1020.6 380.9L1021 410.9L1021.4 418.9L1021.8 448L1022.2 457.9L1022.6 455.2L1023 474.4L1023.4 479.8L1023.8 483L1024.2 491.5L1024.6 490.1L1025 493.4L1025.4 502.9L1025.8 505.2L1026.2 507.4L1026.6 501.3L1027 510.9L1027.4 507.6L1027.8 507.5L1028.2 511.7L1028.6 509.2L1029 516.2L1029.4 512.8L1029.8 514.9L1030.2 515.5L1030.6 512.6L1031 514.1L1031.4 513.9L1031.8 518.4L1032.2 514.6L1032.6 516.2L1033 518.3L1033.4 519L1033.8 514.5L1034.2 517.7L1034.6 515L1035 520L1035.4 516.9L1035.8 520.8L1036.2 516.6L1036.6 514.8L1037 511.3L1037.4 516.2L1037.8 515.8L1038.2 510.2L1038.6 509.7L1039 509.9L1039.4 515L1039.8 512.2L1040.2 517.4L1040.6 517.1L1041 516.5L1041.4 517.5L1041.8 518L1042.2 518.8L1042.6 520.2L1043 515.1L1043.4 520.1L1043.8 520.3L1044.2 515.8L1044.6 520.6L1045 515.6L1045.4 518.2L1045.8 518.4L1046.2 515.4L1046.6 515.2L1047 516.1L1047.4 512.8L1047.8 514.7L1048.2 513.6L1048.6 516.8L1049 515.6L1049.4 506.8L1049.8 513.1L1050.2 508.7L1050.6 507.1L1051 505.5L1051.4 506.3L1051.8 505.9L1052.2 506.5L1052.6 500.3L1053 498.7L1053.4 494.9L1053.8 491.9L1054.2 485.2L1054.6 485.9L1055 482.6L1055.4 467.5L1055.8 464.4L1056.2 457.6L1056.6 445L1057 443.8L1057.4 433.1L1057.8 440.5L1058.2 440.3L1058.6 439L1059 456.7L1059.4 448.7L1059.8 468.5L1060.2 482.1L1060.6 479.7L1061 483.1L1061.4 495.4L1061.8 495.3L1062.2 502L1062.6 498.7L1063 508.6L1063.4 501L1063.8 508.2L1064.2 509L1064.6 510.5L1065 510.7L1065.4 513.9L1065.8 509.5L1066.2 515.7L1066.6 514L1067 515.7L1067.4 514.9L1067.8 517.2L1068.2 515.6L1068.6 513.9L1069 515L1069.4 515.2L1069.8 515.9L1070.2 518.8L1070.6 517.9L1071 515.3L1071.4 517.7L1071.8 518.5L1072.2 514.9L1072.6 513.2L1073 514.1L1073.4 514.5L1073.8 517.6L1074.2 511.3L1074.6 517.5L1075 517.1L1075.4 509.4L1075.8 515L1076.2 509.4L1076.6 507.3L1077 513.1L1077.4 512.6L1077.8 510.9L1078.2 513.7L1078.6 517.2L1079 514.6L1079.4 516.8L1079.8 518.4L1080.2 516.6L1080.6 515.9L1081 514.5L1081.4 516.4L1081.8 513.6L1082.2 515.9L1082.6 518.5L1083 517.2L1083.4 517.6L1083.8 519.5L1084.2 517.2L1084.6 516.8L1085 517.7L1085.4 516.7L1085.8 514.1L1086.2 513.7L1086.6 516.1L1087 510.8L1087.4 513.9L1087.8 514.2L1088.2 515.8L1088.6 513.4L1089 509.2L1089.4 505.4L1089.8 510.1L1090.2 509.3L1090.6 502.5L1091 500.7L1091.4 499.3L1091.8 496L1092.2 494.8L1092.6 497L1093 487.8L1093.4 483.5L1093.8 482.8L1094.2 478.3L1094.6 476.1L1095 471.5L1095.4 471.5L1095.8 464.1L1096.2 472.5L1096.6 471.8L1097 470.3L1097.4 472.2L1097.8 476.2L1098.2 486.5L1098.6 489.1L1099 491.7L1099.4 494.1L1099.8 496.4L1100.2 502.5L1100.6 502L1101 510L1101.4 507L1101.8 511.3L1102.2 511.4L1102.6 512.2L1103 514L1103.4 513.2L1103.8 517.5L1104.2 512.1L1104.6 516.2L1105 513.6L1105.4 513.7L1105.8 516.1L1106.2 518.6L1106.6 513.4L1107 515.1L1107.4 517.3L1107.8 519L1108.2 516.1L1108.6 519.9L1109 513.8L1109.4 518L1109.8 515L1110.2 517.7L1110.6 516.3L1111 517.7L1111.4 518.4L1111.8 515.8L1112.2 514.9L1112.6 518.7L1113 517.6L1113.4 518.9L1113.8 517.7L1114.2 517.6L1114.6 516.3L1115 516.7L1115.4 521.3L1115.8 521.7L1116.2 522.2L1116.6 521.2L1117 521.8L1117.4 516.9L1117.8 515.8L1118.2 516.9L1118.6 521.1L1119 515.5L1119.4 519.1L1119.8 518.7L1120.2 516.5L1120.6 519.3L1121 517.3L1121.4 516.8L1121.8 521.2L1122.2 516.9L1122.6 517.1L1123 519L1123.4 520.2L1123.8 515.9L1124.2 519.4L1124.6 518.6L1125 518.3L1125.4 519L1125.8 512.9L1126.2 514.3L1126.6 514L1127 515.2L1127.4 516.9L1127.8 512.3L1128.2 515.7L1128.6 510.6L1129 507.5L1129.4 507.7L1129.8 507.5L1130.2 506.6L1130.6 510.4L1131 499.8L1131.4 502.7L1131.8 501L1132.2 499.1L1132.6 490.3L1133 493L1133.4 491L1133.8 492.1L1134.2 495.3L1134.6 494.6L1135 492.1L1135.4 492.8L1135.8 491.5L1136.2 495.2L1136.6 504.2L1137 505L1137.4 508.2L1137.8 509.4L1138.2 509.9L1138.6 508.9L1139 508.6L1139.4 506.7L1139.8 513.2L1140.2 517.3L1140.6 517.7L1141 515.2L1141.4 513L1141.8 514.7L1142.2 516.8L1142.6 519.3L1143 517.5L1143.4 517.8L1143.8 520.9L1144.2 520.2L1144.6 518.2L1145 516.5L1145.4 517.1L1145.8 519.2L1146.2 516.9L1146.6 517.1L1147 519.1L1147.4 523L1147.8 520.6L1148.2 516.1L1148.6 520.6L1149 518.6L1149.4 522.2L1149.8 517L1150.2 520.7L1150.6 517.3L1151 522.1L1151.4 521.4L1151.8 520.6L1152.2 522.9L1152.6 518.9L1153 517.4L1153.4 518.8L1153.8 517.9L1154.2 520.7L1154.6 522.6L1155 518.7L1155.4 522.2L1155.8 515.9L1156.2 519.6L1156.6 519.2L1157 517.9L1157.4 518.4L1157.8 517.2L1158.2 517.4L1158.6 518.6L1159 517.9L1159.4 517.8L1159.8 517.3L1160.2 518.5L1160.6 521.1L1161 523.4L1161.4 517.4L1161.8 518.5L1162.2 518.8L1162.6 521.5L1163 516.7L1163.4 522.5L1163.8 516L1164.2 515.8L1164.6 516.3L1165 520.5L1165.4 519.7L1165.8 521L1166.2 520.7L1166.6 515.4L1167 514.3L1167.4 516L1167.8 517L1168.2 514.6L1168.6 509.7L1169 508.9L1169.4 508.7L1169.8 512.9L1170.2 508.1L1170.6 511.3L1171 507.3L1171.4 506.6L1171.8 507.9L1172.2 505.6L1172.6 508.7L1173 500.7L1173.4 503L1173.8 508.2L1174.2 511.5L1174.6 511L1175 513L1175.4 513.5L1175.8 513.2L1176.2 513.6L1176.6 511.4L1177 513.1L1177.4 516.1L1177.8 517.1L1178.2 519.3L1178.6 518.1L1179 517.6L1179.4 515.2L1179.8 517.9L1180.2 517.7L1180.6 518.5L1181 519.3L1181.4 516.1L1181.8 518.9L1182.2 521.5L1182.6 517.1L1183 523.2L1183.4 518.4L1183.8 518.6L1184.2 518.8L1184.6 521.7L1185 518L1185.4 524.7L1185.8 519.9L1186.2 522.4L1186.6 516.9L1187 519.6L1187.4 519L1187.8 520.1L1188.2 521.5L1188.6 525.3L1189 519.6L1189.4 519.3L1189.8 523.4L1190.2 519L1190.6 521.9L1191 524L1191.4 525L1191.8 524.5L1192.2 520.9L1192.6 518.5L1193 520.3L1193.4 519.8L1193.8 523.6L1194.2 521.9L1194.6 523L1195 521.7L1195.4 522.9L1195.8 520.5L1196.2 521L1196.6 519.1L1197 523.8L1197.4 523.5L1197.8 517.5L1198.2 518.2L1198.6 522L1199 518.6L1199.4 523.1L1199.8 518.9L1200.2 520.5L1200.6 518.7L1201 518.8L1201.4 519.9L1201.8 518.2L1202.2 519L1202.6 521.1L1203 523L1203.4 521L1203.8 519.2L1204.2 517.9L1204.6 519.6L1205 519.8L1205.4 516.4L1205.8 521.1L1206.2 516L1206.6 519.2L1207 513.3L1207.4 514.5L1207.8 514.2L1208.2 517L1208.6 513.2L1209 513.7L1209.4 512.6L1209.8 514.3L1210.2 511.5L1210.6 512.2L1211 513.2L1211.4 510.6L1211.8 512.3L1212.2 514.8L1212.6 519.1L1213 517.1L1213.4 518L1213.8 514.5L1214.2 518.7L1214.6 518.2L1215 515.9L1215.4 520L1215.8 520.5L1216.2 519L1216.6 521L1217 522.1L1217.4 519.3L1217.8 521.6L1218.2 520.4L1218.6 523.8L1219 520.9L1219.4 519.6L1219.8 522.5L1220.2 520.6L1220.6 524.3L1221 521.5L1221.4 523.7L1221.8 521.2L1222.2 523.3L1222.6 518.8L1223 520.2L1223.4 520.5L1223.8 520.9L1224.2 521.3L1224.6 521.5L1225 520.6L1225.4 520.8L1225.8 522.5L1226.2 524.8L1226.6 521L1227 521.7L1227.4 525.1L1227.8 525L1228.2 523.4L1228.6 525.7L1229 520.4L1229.4 524.1L1229.8 523.4L1230.2 523.4L1230.6 521.6L1231 522.9L1231.4 520.4L1231.8 522.4L1232.2 519.6L1232.6 525.6L1233 525.5L1233.4 524L1233.8 520.6L1234.2 524.5L1234.6 522L1235 524.8L1235.4 522.6L1235.8 523L1236.2 522.5L1236.6 523.1L1237 524.1L1237.4 525.1L1237.9 524.8L1238.3 524.4L1238.7 522.7L1239.1 521.6L1239.5 522.8L1239.9 521.9L1240.3 522.3L1240.7 525.2L1241.1 522.9L1241.5 522.9L1241.9 523.1L1242.3 518.3L1242.7 523.9L1243.1 518.9L1243.5 519.9L1243.9 520.4L1244.3 519.1L1244.7 522.1L1245.1 521.1L1245.5 521.3L1245.9 520.9L1246.3 520.3L1246.7 520.1L1247.1 521.2L1247.5 514.7L1247.9 519L1248.3 519.7L1248.7 517.9L1249.1 520.9L1249.5 516.5L1249.9 517.1L1250.3 520.7L1250.7 518.9L1251.1 516.2L1251.5 518.1L1251.9 521.3L1252.3 516.6L1252.7 518.9L1253.1 519.9L1253.5 522.4L1253.9 519L1254.3 524L1254.7 523.5L1255.1 519.4L1255.5 522.6L1255.9 526.3L1256.3 524.7L1256.7 519.9L1257.1 520.6L1257.5 525.9L1257.9 522.6L1258.3 520.8L1258.7 520.7L1259.1 523.4L1259.5 521.3L1259.9 523.1L1260.3 520.1L1260.7 526.9L1261.1 526.2L1261.5 522.1L1261.9 522.5L1262.3 525.8L1262.7 523.2L1263.1 523.3L1263.5 527.8L1263.9 521.1L1264.3 527.4L1264.7 522.9L1265.1 527.6L1265.5 521.3L1265.9 523.8L1266.3 520.7L1266.7 526.5L1267.1 526.3L1267.5 521.6L1267.9 521.4L1268.3 524.9L1268.7 524.2L1269.1 525.5L1269.5 526.5L1269.9 522L1270.3 526.5L1270.7 526.2L1271.1 525.2L1271.5 524.3L1271.9 523.4L1272.3 528.5L1272.7 524.4L1273.1 524.5L1273.5 526.5L1273.9 524.1L1274.3 524.9L1274.7 522.7L1275.1 523.4L1275.5 522.2L1275.9 523.3L1276.3 524.5L1276.7 524L1277.1 526.2L1277.5 521.1L1277.9 525.7L1278.3 524.2L1278.7 523.3L1279.1 525.7L1279.5 521.9L1279.9 521.7L1280.3 525.9L1280.7 523.1L1281.1 523.5L1281.5 521.6L1281.9 524.5L1282.3 523.6L1282.7 521.9L1283.1 524.4L1283.5 526.6L1283.9 525L1284.3 522.7L1284.7 524.3L1285.1 521L1285.5 520.4L1285.9 524.9L1286.3 522.5L1286.7 520.6L1287.1 521.6L1287.5 518L1287.9 520.8L1288.3 518.9L1288.7 522.9L1289.1 522.6L1289.5 522.6L1289.9 520.5L1290.3 520.2L1290.7 521.9L1291.1 524.6L1291.5 524L1291.9 528.8L1292.3 526.5L1292.7 527.2L1293.1 524.8L1293.5 527.5L1293.9 526.3L1294.3 522.2L1294.7 528.1L1295.1 524.3L1295.5 526.5L1295.9 526.7L1296.3 524.2L1296.7 529.8L1297.1 526.1L1297.5 526.2L1297.9 523.7L1298.3 524.9L1298.7 525.2L1299.1 523.5L1299.5 524.1L1299.9 526.5L1300.3 524.8L1300.7 524.9L1301.1 526.4L1301.5 524.6L1301.9 525.8L1302.3 526.7L1302.7 525.6L1303.1 525.4L1303.5 524.8L1303.9 523.7L1304.3 525.4L1304.7 528.5L1305.1 528.5L1305.5 526L1305.9 528.1L1306.3 525.7L1306.7 524.5L1307.1 530.9L1307.5 526.7L1307.9 523.4L1308.3 529.9L1308.7 525.7L1309.1 526.1L1309.5 524.4L1309.9 526.8L1310.3 524L1310.7 527.9L1311.1 529.1L1311.5 526.5L1311.9 523.8L1312.3 527.5L1312.7 523.9L1313.1 526.2L1313.5 527.7L1313.9 528.7L1314.3 525.2L1314.7 524.1L1315.1 527.3L1315.5 525.5L1315.9 524.7L1316.3 530.3L1316.7 529.5L1317.1 528.5L1317.5 528.4L1317.9 525L1318.3 528.8L1318.7 525.2L1319.1 524.2L1319.5 528.6L1319.9 524.6L1320.3 522.9L1320.7 522.1L1321.1 528.2L1321.5 524.9L1321.9 525.6L1322.3 523.2L1322.7 524.6L1323.1 526.2L1323.5 522.6L1323.9 525.5L1324.3 526.3L1324.7 525.5L1325.1 521.8L1325.5 526.6L1325.9 526.8L1326.3 523.9L1326.7 525.3L1327.1 522.2L1327.5 524L1327.9 521.9L1328.3 528.7L1328.7 525.2L1329.1 522.6L1329.5 524.4L1329.9 524.9L1330.3 527.9L1330.7 529L1331.1 526.8L1331.5 524.9L1331.9 525.9L1332.3 525.3L1332.7 529.9L1333.1 527.9L1333.5 529.4L1333.9 528.8L1334.3 527.7L1334.7 523.5L1335.1 525.2L1335.5 525.4L1335.9 529.4L1336.3 526.8L1336.7 526.7L1337.1 525.4L1337.5 524.3L1337.9 528.9L1338.3 525.4L1338.7 528L1339.1 529.1L1339.5 524.3L1339.9 529.1L1340.3 526.2L1340.7 530L1341.1 526.3L1341.5 526.7L1341.9 529.5L1342.3 528L1342.7 526.6L1343.1 528.8L1343.5 524.5L1343.9 527.9L1344.3 527.9L1344.7 525.3L1345.1 528.4L1345.5 529.3L1345.9 524.8L1346.3 531L1346.7 524.3L1347.1 526.2L1347.5 525.8L1347.9 530.4L1348.3 527.2L1348.7 530.1L1349.1 530.7L1349.5 526.1L1349.9 525.6L1350.3 529.5L1350.7 527.5L1351.1 531.3L1351.5 525.2L1351.9 529.7L1352.3 526L1352.7 529.9L1353.1 525.6L1353.5 527.4L1353.9 530.6L1354.3 525.8L1354.7 525L1355.1 526.2L1355.5 530.5L1355.9 529.5L1356.3 529.8L1356.7 529.9L1357.1 531.7L1357.5 525.5L1357.9 527.6L1358.3 530.3L1358.7 529.2L1359.1 527.9L1359.5 525.7L1359.9 528.8L1360.3 523.3L1360.7 526.6L1361.1 525L1361.5 525.4"/>
</g>
<line class="t" x1="866.3" y1="532.5" x2="866.3" y2="544"/>
<line class="t" x1="990" y1="532.5" x2="990" y2="544"/>
<line class="t" x1="1113.8" y1="532.5" x2="1113.8" y2="544"/>
<line class="t" x1="1237.5" y1="532.5" x2="1237.5" y2="544"/>
<line class="t" x1="1361.3" y1="532.5" x2="1361.3" y2="544"/>
<line class="t" x1="854.8" y1="532.5" x2="866.3" y2="532.5"/>
<line class="t" x1="854.8" y1="420.1" x2="866.3" y2="420.1"/>
<line class="t" x1="854.8" y1="307.6" x2="866.3" y2="307.6"/>
<rect class="s" x="866.3" y="307.6" width="495" height="224.9"/>
<text font-size="36" textLength="238.5" lengthAdjust="spacing" text-anchor="middle" x="519.6" y="24.9">maximum strain</text>
<text font-size="36" textLength="105.5" lengthAdjust="spacing" text-anchor="middle" x="1113.7" y="24.9">relaxed</text>
<text font-size="35" textLength="54.0" lengthAdjust="spacing" text-anchor="end" x="250.2" y="50.4">400</text>
<text font-size="35" textLength="54.0" lengthAdjust="spacing" text-anchor="end" x="250.2" y="162.9">200</text>
<text font-size="35" text-anchor="end" x="250.0" y="275.4">0</text>
<text font-size="35" textLength="54.0" lengthAdjust="spacing" text-anchor="end" x="250.2" y="320.4">400</text>
<text font-size="35" textLength="54.0" lengthAdjust="spacing" text-anchor="end" x="250.2" y="432.9">200</text>
<text font-size="35" text-anchor="end" x="250.0" y="545.3">0</text>
<text font-size="35" textLength="80.4" lengthAdjust="spacing" text-anchor="middle" x="272.0" y="580.3">0.000</text>
<text font-size="35" textLength="80.4" lengthAdjust="spacing" text-anchor="middle" x="395.7" y="580.3">0.002</text>
<text font-size="35" textLength="80.4" lengthAdjust="spacing" text-anchor="middle" x="519.4" y="580.3">0.004</text>
<text font-size="35" textLength="80.4" lengthAdjust="spacing" text-anchor="middle" x="643.1" y="580.3">0.006</text>
<text font-size="35" textLength="80.4" lengthAdjust="spacing" text-anchor="middle" x="766.8" y="580.3">0.008</text>
<text font-size="35" textLength="80.4" lengthAdjust="spacing" text-anchor="middle" x="865.9" y="580.3">0.000</text>
<text font-size="35" textLength="80.4" lengthAdjust="spacing" text-anchor="middle" x="989.65" y="580.3">0.002</text>
<text font-size="35" textLength="80.4" lengthAdjust="spacing" text-anchor="middle" x="1113.4" y="580.3">0.004</text>
<text font-size="35" textLength="80.4" lengthAdjust="spacing" text-anchor="middle" x="1237.15" y="580.3">0.006</text>
<text font-size="35" textLength="80.4" lengthAdjust="spacing" text-anchor="middle" x="1360.9" y="580.3">0.008</text>
<text font-size="36" textLength="76.0" lengthAdjust="spacing" text-anchor="middle" x="520.2" y="625.3"><tspan font-style="italic">l</tspan> in <tspan font-style="italic">d</tspan></text>
<text font-size="36" textLength="76.0" lengthAdjust="spacing" text-anchor="middle" x="1114.2" y="625.3"><tspan font-style="italic">l</tspan> in <tspan font-style="italic">d</tspan></text>
<text font-size="36" text-anchor="middle" transform="translate(25.3 149.8) rotate(-90)" x="0" y="0">with</text>
<text font-size="36" text-anchor="middle" transform="translate(61.8 149.8) rotate(-90)" x="0" y="0">cross-slip:</text>
<text font-size="36" text-anchor="middle" transform="translate(138.2 150.2) rotate(-90)" x="0" y="0">probability</text>
<text font-size="36" text-anchor="middle" transform="translate(176.1 150.2) rotate(-90)" x="0" y="0">density</text>
<text font-size="36" text-anchor="middle" transform="translate(25.3 419.8) rotate(-90)" x="0" y="0">without</text>
<text font-size="36" text-anchor="middle" transform="translate(61.8 419.8) rotate(-90)" x="0" y="0">cross-slip:</text>
<text font-size="36" text-anchor="middle" transform="translate(138.2 420.2) rotate(-90)" x="0" y="0">probability</text>
<text font-size="36" text-anchor="middle" transform="translate(176.1 420.2) rotate(-90)" x="0" y="0">density</text>
<text font-size="36" textLength="113.0" lengthAdjust="spacing" text-anchor="start" x="1417.8" y="206.0">number</text>
<text font-size="36" textLength="129.6" lengthAdjust="spacing" text-anchor="start" x="1417.8" y="243.1">of voxels</text>
<text font-size="32.8" textLength="34.4" lengthAdjust="spacing" text-anchor="start" x="1517.6" y="294.5">16</text>
<text font-size="32.8" textLength="34.4" lengthAdjust="spacing" text-anchor="start" x="1517.6" y="345.7">32</text>
<text font-size="32.8" textLength="34.4" lengthAdjust="spacing" text-anchor="start" x="1517.6" y="396.8">40</text>
<text font-size="32.8" textLength="34.4" lengthAdjust="spacing" text-anchor="start" x="1517.6" y="448.0">64</text>
<line x1="1415.6" y1="281.35" x2="1492.1" y2="281.35" stroke="#8b0000" stroke-width="5.2"/>
<line x1="1415.6" y1="332.55" x2="1492.1" y2="332.55" stroke="#e9967a" stroke-width="5.2"/>
<line x1="1415.6" y1="383.65" x2="1492.1" y2="383.65" stroke="#4682b4" stroke-width="5.2"/>
<line x1="1415.6" y1="434.8" x2="1492.1" y2="434.8" stroke="#191970" stroke-width="5.2"/>
</svg>
</body>
</html>
